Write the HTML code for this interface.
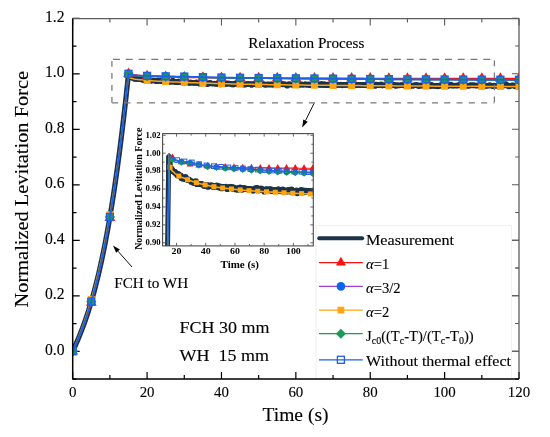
<!DOCTYPE html>
<html><head><meta charset="utf-8"><style>
html,body{margin:0;padding:0;background:#fff;}
svg{display:block;}
</style></head><body>
<svg width="550" height="437" viewBox="0 0 550 437">
<rect width="550" height="437" fill="#fff"/>
<path d="M72.70,18.60v7.0M109.89,18.60v3.8M147.08,18.60v7.0M184.28,18.60v3.8M221.47,18.60v7.0M258.66,18.60v3.8M295.85,18.60v7.0M333.04,18.60v3.8M370.23,18.60v7.0M407.43,18.60v3.8M444.62,18.60v7.0M481.81,18.60v3.8M519.00,18.60v7.0M519.00,379.05h-3.8M519.00,351.30h-7.0M519.00,323.55h-3.8M519.00,295.80h-7.0M519.00,268.05h-3.8M519.00,240.30h-7.0M519.00,212.55h-3.8M519.00,184.80h-7.0M519.00,157.05h-3.8M519.00,129.30h-7.0M519.00,101.55h-3.8M519.00,73.80h-7.0M519.00,46.05h-3.8M519.00,18.30h-7.0" stroke="#5a5a5a" stroke-width="1.1" fill="none"/><path d="M72.70,378.90v-7.0M109.89,378.90v-3.8M147.08,378.90v-7.0M184.28,378.90v-3.8M221.47,378.90v-7.0M258.66,378.90v-3.8M295.85,378.90v-7.0M333.04,378.90v-3.8M370.23,378.90v-7.0M407.43,378.90v-3.8M444.62,378.90v-7.0M481.81,378.90v-3.8M519.00,378.90v-7.0M72.70,379.05h3.8M72.70,351.30h7.0M72.70,323.55h3.8M72.70,295.80h7.0M72.70,268.05h3.8M72.70,240.30h7.0M72.70,212.55h3.8M72.70,184.80h7.0M72.70,157.05h3.8M72.70,129.30h7.0M72.70,101.55h3.8M72.70,73.80h7.0M72.70,46.05h3.8M72.70,18.30h7.0" stroke="#000" stroke-width="1.2" fill="none"/>
<defs><clipPath id="pc"><rect x="72.7" y="18.6" width="446.30" height="360.30"/></clipPath></defs><g clip-path="url(#pc)">
<polyline points="72.70,351.30 73.63,349.28 74.56,347.23 75.49,345.15 76.42,343.03 77.35,340.87 78.28,338.67 79.21,336.42 80.14,334.12 81.07,331.77 82.00,329.36 82.93,326.90 83.86,324.37 84.79,321.78 85.72,319.13 86.65,316.40 87.58,313.60 88.51,310.73 89.44,307.78 90.37,304.75 91.30,301.63 92.23,298.42 93.16,295.13 94.09,291.74 95.02,288.25 95.94,284.67 96.87,280.98 97.80,277.19 98.73,273.29 99.66,269.28 100.59,265.15 101.52,260.91 102.45,256.55 103.38,252.07 104.31,247.46 105.24,242.72 106.17,237.85 107.10,232.84 108.03,227.70 108.96,222.42 109.89,216.99 110.82,211.42 111.75,205.70 112.68,199.82 113.61,193.79 114.54,187.60 115.47,181.25 116.40,174.74 117.33,168.06 118.26,161.21 119.19,154.19 120.12,146.99 121.05,139.61 121.98,132.05 122.91,124.31 123.84,116.38 124.77,108.25 125.70,99.94 126.63,91.43 127.56,82.71 128.49,73.80 128.86,74.87 129.23,75.50 129.60,75.95 130.35,76.57 131.28,77.53 132.21,78.24 134.07,78.60 135.93,78.87 137.79,79.07 139.65,79.36 143.36,79.83 147.08,80.19 150.80,80.49 154.52,80.74 158.24,81.03 161.96,81.29 165.68,81.52 169.40,81.72 173.12,81.91 176.84,82.09 180.56,82.25 184.28,82.40 187.99,82.57 191.71,82.73 195.43,82.88 199.15,83.02 202.87,83.15 206.59,83.28 210.31,83.40 214.03,83.52 217.75,83.63 221.47,83.73 225.19,83.81 228.91,83.87 232.62,83.94 236.34,84.00 240.06,84.06 243.78,84.12 247.50,84.17 251.22,84.21 254.94,84.25 258.66,84.28 262.38,84.32 266.10,84.36 269.82,84.39 273.54,84.43 277.25,84.46 280.97,84.50 284.69,84.53 288.41,84.56 292.13,84.59 295.85,84.62 299.57,84.65 303.29,84.68 307.01,84.71 310.73,84.73 314.45,84.76 318.17,84.79 321.88,84.82 325.60,84.85 329.32,84.88 333.04,84.90 336.76,84.93 340.48,84.96 344.20,84.98 347.92,85.01 351.64,85.03 355.36,85.06 359.08,85.08 362.80,85.10 366.51,85.13 370.23,85.15 373.95,85.17 377.67,85.20 381.39,85.22 385.11,85.24 388.83,85.26 392.55,85.28 396.27,85.30 399.99,85.32 403.71,85.34 407.43,85.36 411.14,85.38 414.86,85.40 418.58,85.42 422.30,85.43 426.02,85.45 429.74,85.47 433.46,85.49 437.18,85.50 440.90,85.52 444.62,85.54 448.34,85.55 452.05,85.57 455.77,85.58 459.49,85.59 463.21,85.61 466.93,85.62 470.65,85.63 474.37,85.64 478.09,85.66 481.81,85.67 485.53,85.68 489.25,85.69 492.97,85.71 496.69,85.72 500.40,85.73 504.12,85.74 507.84,85.75 511.56,85.77 515.28,85.78 519.00,85.79" fill="none" stroke="#1d3349" stroke-width="5.2" stroke-linejoin="round" stroke-linecap="round"/>
<circle cx="134.07" cy="78.60" r="2.8" fill="#1d3349"/><circle cx="135.55" cy="78.97" r="2.8" fill="#1d3349"/><circle cx="137.04" cy="78.86" r="2.8" fill="#1d3349"/><circle cx="138.53" cy="78.75" r="2.8" fill="#1d3349"/><circle cx="140.02" cy="79.19" r="2.8" fill="#1d3349"/><circle cx="141.50" cy="79.12" r="2.8" fill="#1d3349"/><circle cx="142.99" cy="79.82" r="2.8" fill="#1d3349"/><circle cx="144.48" cy="80.61" r="2.8" fill="#1d3349"/><circle cx="145.97" cy="79.84" r="2.8" fill="#1d3349"/><circle cx="147.46" cy="79.91" r="2.8" fill="#1d3349"/><circle cx="148.94" cy="80.59" r="2.8" fill="#1d3349"/><circle cx="150.43" cy="80.64" r="2.8" fill="#1d3349"/><circle cx="151.92" cy="80.62" r="2.8" fill="#1d3349"/><circle cx="153.41" cy="80.20" r="2.8" fill="#1d3349"/><circle cx="154.89" cy="80.75" r="2.8" fill="#1d3349"/><circle cx="156.38" cy="81.24" r="2.8" fill="#1d3349"/><circle cx="157.87" cy="80.33" r="2.8" fill="#1d3349"/><circle cx="159.36" cy="80.88" r="2.8" fill="#1d3349"/><circle cx="160.84" cy="80.26" r="2.8" fill="#1d3349"/><circle cx="162.33" cy="80.66" r="2.8" fill="#1d3349"/><circle cx="163.82" cy="80.48" r="2.8" fill="#1d3349"/><circle cx="165.31" cy="81.38" r="2.8" fill="#1d3349"/><circle cx="166.79" cy="80.95" r="2.8" fill="#1d3349"/><circle cx="168.28" cy="81.80" r="2.8" fill="#1d3349"/><circle cx="169.77" cy="81.82" r="2.8" fill="#1d3349"/><circle cx="171.26" cy="81.73" r="2.8" fill="#1d3349"/><circle cx="172.75" cy="80.64" r="2.8" fill="#1d3349"/><circle cx="174.23" cy="81.70" r="2.8" fill="#1d3349"/><circle cx="175.72" cy="82.01" r="2.8" fill="#1d3349"/><circle cx="177.21" cy="82.16" r="2.8" fill="#1d3349"/><circle cx="178.70" cy="81.41" r="2.8" fill="#1d3349"/><circle cx="180.18" cy="82.00" r="2.8" fill="#1d3349"/><circle cx="181.67" cy="81.81" r="2.8" fill="#1d3349"/><circle cx="183.16" cy="81.95" r="2.8" fill="#1d3349"/><circle cx="184.65" cy="82.95" r="2.8" fill="#1d3349"/><circle cx="186.13" cy="82.08" r="2.8" fill="#1d3349"/><circle cx="187.62" cy="82.54" r="2.8" fill="#1d3349"/><circle cx="189.11" cy="83.06" r="2.8" fill="#1d3349"/><circle cx="190.60" cy="82.39" r="2.8" fill="#1d3349"/><circle cx="192.09" cy="82.69" r="2.8" fill="#1d3349"/><circle cx="193.57" cy="82.86" r="2.8" fill="#1d3349"/><circle cx="195.06" cy="82.89" r="2.8" fill="#1d3349"/><circle cx="196.55" cy="82.31" r="2.8" fill="#1d3349"/><circle cx="198.04" cy="83.02" r="2.8" fill="#1d3349"/><circle cx="199.52" cy="83.71" r="2.8" fill="#1d3349"/><circle cx="201.01" cy="82.31" r="2.8" fill="#1d3349"/><circle cx="202.50" cy="83.57" r="2.8" fill="#1d3349"/><circle cx="203.99" cy="83.25" r="2.8" fill="#1d3349"/><circle cx="205.47" cy="82.92" r="2.8" fill="#1d3349"/><circle cx="206.96" cy="84.29" r="2.8" fill="#1d3349"/><circle cx="208.45" cy="83.72" r="2.8" fill="#1d3349"/><circle cx="209.94" cy="82.79" r="2.8" fill="#1d3349"/><circle cx="211.42" cy="83.47" r="2.8" fill="#1d3349"/><circle cx="212.91" cy="83.77" r="2.8" fill="#1d3349"/><circle cx="214.40" cy="83.43" r="2.8" fill="#1d3349"/><circle cx="215.89" cy="83.91" r="2.8" fill="#1d3349"/><circle cx="217.38" cy="83.58" r="2.8" fill="#1d3349"/><circle cx="218.86" cy="83.99" r="2.8" fill="#1d3349"/><circle cx="220.35" cy="84.42" r="2.8" fill="#1d3349"/><circle cx="221.84" cy="83.40" r="2.8" fill="#1d3349"/><circle cx="223.33" cy="83.87" r="2.8" fill="#1d3349"/><circle cx="224.81" cy="83.57" r="2.8" fill="#1d3349"/><circle cx="226.30" cy="83.89" r="2.8" fill="#1d3349"/><circle cx="227.79" cy="83.26" r="2.8" fill="#1d3349"/><circle cx="229.28" cy="83.59" r="2.8" fill="#1d3349"/><circle cx="230.76" cy="83.81" r="2.8" fill="#1d3349"/><circle cx="232.25" cy="84.38" r="2.8" fill="#1d3349"/><circle cx="233.74" cy="84.53" r="2.8" fill="#1d3349"/><circle cx="235.23" cy="83.32" r="2.8" fill="#1d3349"/><circle cx="236.72" cy="83.61" r="2.8" fill="#1d3349"/><circle cx="238.20" cy="84.36" r="2.8" fill="#1d3349"/><circle cx="239.69" cy="83.06" r="2.8" fill="#1d3349"/><circle cx="241.18" cy="83.85" r="2.8" fill="#1d3349"/><circle cx="242.67" cy="84.06" r="2.8" fill="#1d3349"/><circle cx="244.15" cy="84.76" r="2.8" fill="#1d3349"/><circle cx="245.64" cy="84.49" r="2.8" fill="#1d3349"/><circle cx="247.13" cy="84.00" r="2.8" fill="#1d3349"/><circle cx="248.62" cy="83.99" r="2.8" fill="#1d3349"/><circle cx="250.10" cy="84.07" r="2.8" fill="#1d3349"/><circle cx="251.59" cy="84.97" r="2.8" fill="#1d3349"/><circle cx="253.08" cy="84.01" r="2.8" fill="#1d3349"/><circle cx="254.57" cy="84.09" r="2.8" fill="#1d3349"/><circle cx="256.05" cy="84.43" r="2.8" fill="#1d3349"/><circle cx="257.54" cy="84.21" r="2.8" fill="#1d3349"/><circle cx="259.03" cy="84.19" r="2.8" fill="#1d3349"/><circle cx="260.52" cy="83.75" r="2.8" fill="#1d3349"/><circle cx="262.01" cy="84.31" r="2.8" fill="#1d3349"/><circle cx="263.49" cy="84.11" r="2.8" fill="#1d3349"/><circle cx="264.98" cy="84.93" r="2.8" fill="#1d3349"/><circle cx="266.47" cy="84.69" r="2.8" fill="#1d3349"/><circle cx="267.96" cy="84.36" r="2.8" fill="#1d3349"/><circle cx="269.44" cy="84.73" r="2.8" fill="#1d3349"/><circle cx="270.93" cy="84.24" r="2.8" fill="#1d3349"/><circle cx="272.42" cy="84.95" r="2.8" fill="#1d3349"/><circle cx="273.91" cy="84.43" r="2.8" fill="#1d3349"/><circle cx="275.39" cy="84.74" r="2.8" fill="#1d3349"/><circle cx="276.88" cy="83.81" r="2.8" fill="#1d3349"/><circle cx="278.37" cy="84.65" r="2.8" fill="#1d3349"/><circle cx="279.86" cy="83.64" r="2.8" fill="#1d3349"/><circle cx="281.35" cy="83.48" r="2.8" fill="#1d3349"/><circle cx="282.83" cy="84.36" r="2.8" fill="#1d3349"/><circle cx="284.32" cy="84.08" r="2.8" fill="#1d3349"/><circle cx="285.81" cy="84.62" r="2.8" fill="#1d3349"/><circle cx="287.30" cy="85.67" r="2.8" fill="#1d3349"/><circle cx="288.78" cy="84.15" r="2.8" fill="#1d3349"/><circle cx="290.27" cy="84.26" r="2.8" fill="#1d3349"/><circle cx="291.76" cy="84.69" r="2.8" fill="#1d3349"/><circle cx="293.25" cy="84.85" r="2.8" fill="#1d3349"/><circle cx="294.73" cy="84.52" r="2.8" fill="#1d3349"/><circle cx="296.22" cy="84.52" r="2.8" fill="#1d3349"/><circle cx="297.71" cy="84.99" r="2.8" fill="#1d3349"/><circle cx="299.20" cy="84.91" r="2.8" fill="#1d3349"/><circle cx="300.68" cy="84.14" r="2.8" fill="#1d3349"/><circle cx="302.17" cy="84.63" r="2.8" fill="#1d3349"/><circle cx="303.66" cy="84.70" r="2.8" fill="#1d3349"/><circle cx="305.15" cy="84.17" r="2.8" fill="#1d3349"/><circle cx="306.64" cy="84.83" r="2.8" fill="#1d3349"/><circle cx="308.12" cy="84.29" r="2.8" fill="#1d3349"/><circle cx="309.61" cy="85.21" r="2.8" fill="#1d3349"/><circle cx="311.10" cy="84.83" r="2.8" fill="#1d3349"/><circle cx="312.59" cy="84.79" r="2.8" fill="#1d3349"/><circle cx="314.07" cy="84.46" r="2.8" fill="#1d3349"/><circle cx="315.56" cy="84.71" r="2.8" fill="#1d3349"/><circle cx="317.05" cy="83.78" r="2.8" fill="#1d3349"/><circle cx="318.54" cy="84.23" r="2.8" fill="#1d3349"/><circle cx="320.02" cy="84.99" r="2.8" fill="#1d3349"/><circle cx="321.51" cy="83.75" r="2.8" fill="#1d3349"/><circle cx="323.00" cy="85.25" r="2.8" fill="#1d3349"/><circle cx="324.49" cy="83.97" r="2.8" fill="#1d3349"/><circle cx="325.98" cy="85.23" r="2.8" fill="#1d3349"/><circle cx="327.46" cy="84.44" r="2.8" fill="#1d3349"/><circle cx="328.95" cy="85.26" r="2.8" fill="#1d3349"/><circle cx="330.44" cy="84.95" r="2.8" fill="#1d3349"/><circle cx="331.93" cy="84.13" r="2.8" fill="#1d3349"/><circle cx="333.41" cy="85.53" r="2.8" fill="#1d3349"/><circle cx="334.90" cy="85.64" r="2.8" fill="#1d3349"/><circle cx="336.39" cy="84.89" r="2.8" fill="#1d3349"/><circle cx="337.88" cy="84.80" r="2.8" fill="#1d3349"/><circle cx="339.36" cy="84.87" r="2.8" fill="#1d3349"/><circle cx="340.85" cy="84.47" r="2.8" fill="#1d3349"/><circle cx="342.34" cy="85.52" r="2.8" fill="#1d3349"/><circle cx="343.83" cy="84.71" r="2.8" fill="#1d3349"/><circle cx="345.31" cy="84.96" r="2.8" fill="#1d3349"/><circle cx="346.80" cy="84.60" r="2.8" fill="#1d3349"/><circle cx="348.29" cy="84.70" r="2.8" fill="#1d3349"/><circle cx="349.78" cy="84.38" r="2.8" fill="#1d3349"/><circle cx="351.27" cy="85.66" r="2.8" fill="#1d3349"/><circle cx="352.75" cy="84.96" r="2.8" fill="#1d3349"/><circle cx="354.24" cy="85.53" r="2.8" fill="#1d3349"/><circle cx="355.73" cy="85.07" r="2.8" fill="#1d3349"/><circle cx="357.22" cy="84.72" r="2.8" fill="#1d3349"/><circle cx="358.70" cy="84.91" r="2.8" fill="#1d3349"/><circle cx="360.19" cy="84.81" r="2.8" fill="#1d3349"/><circle cx="361.68" cy="85.10" r="2.8" fill="#1d3349"/><circle cx="363.17" cy="84.92" r="2.8" fill="#1d3349"/><circle cx="364.65" cy="84.97" r="2.8" fill="#1d3349"/><circle cx="366.14" cy="84.44" r="2.8" fill="#1d3349"/><circle cx="367.63" cy="84.73" r="2.8" fill="#1d3349"/><circle cx="369.12" cy="85.97" r="2.8" fill="#1d3349"/><circle cx="370.61" cy="84.82" r="2.8" fill="#1d3349"/><circle cx="372.09" cy="84.64" r="2.8" fill="#1d3349"/><circle cx="373.58" cy="85.34" r="2.8" fill="#1d3349"/><circle cx="375.07" cy="85.88" r="2.8" fill="#1d3349"/><circle cx="376.56" cy="84.46" r="2.8" fill="#1d3349"/><circle cx="378.04" cy="85.09" r="2.8" fill="#1d3349"/><circle cx="379.53" cy="84.89" r="2.8" fill="#1d3349"/><circle cx="381.02" cy="84.34" r="2.8" fill="#1d3349"/><circle cx="382.51" cy="85.59" r="2.8" fill="#1d3349"/><circle cx="383.99" cy="85.22" r="2.8" fill="#1d3349"/><circle cx="385.48" cy="85.28" r="2.8" fill="#1d3349"/><circle cx="386.97" cy="84.87" r="2.8" fill="#1d3349"/><circle cx="388.46" cy="85.49" r="2.8" fill="#1d3349"/><circle cx="389.94" cy="85.00" r="2.8" fill="#1d3349"/><circle cx="391.43" cy="85.20" r="2.8" fill="#1d3349"/><circle cx="392.92" cy="84.73" r="2.8" fill="#1d3349"/><circle cx="394.41" cy="84.68" r="2.8" fill="#1d3349"/><circle cx="395.90" cy="85.97" r="2.8" fill="#1d3349"/><circle cx="397.38" cy="85.05" r="2.8" fill="#1d3349"/><circle cx="398.87" cy="85.46" r="2.8" fill="#1d3349"/><circle cx="400.36" cy="85.31" r="2.8" fill="#1d3349"/><circle cx="401.85" cy="85.11" r="2.8" fill="#1d3349"/><circle cx="403.33" cy="85.08" r="2.8" fill="#1d3349"/><circle cx="404.82" cy="85.66" r="2.8" fill="#1d3349"/><circle cx="406.31" cy="85.20" r="2.8" fill="#1d3349"/><circle cx="407.80" cy="85.29" r="2.8" fill="#1d3349"/><circle cx="409.28" cy="85.38" r="2.8" fill="#1d3349"/><circle cx="410.77" cy="85.96" r="2.8" fill="#1d3349"/><circle cx="412.26" cy="85.72" r="2.8" fill="#1d3349"/><circle cx="413.75" cy="85.58" r="2.8" fill="#1d3349"/><circle cx="415.24" cy="85.12" r="2.8" fill="#1d3349"/><circle cx="416.72" cy="84.72" r="2.8" fill="#1d3349"/><circle cx="418.21" cy="85.89" r="2.8" fill="#1d3349"/><circle cx="419.70" cy="85.90" r="2.8" fill="#1d3349"/><circle cx="421.19" cy="85.36" r="2.8" fill="#1d3349"/><circle cx="422.67" cy="85.71" r="2.8" fill="#1d3349"/><circle cx="424.16" cy="85.83" r="2.8" fill="#1d3349"/><circle cx="425.65" cy="85.87" r="2.8" fill="#1d3349"/><circle cx="427.14" cy="85.92" r="2.8" fill="#1d3349"/><circle cx="428.62" cy="85.24" r="2.8" fill="#1d3349"/><circle cx="430.11" cy="86.23" r="2.8" fill="#1d3349"/><circle cx="431.60" cy="84.85" r="2.8" fill="#1d3349"/><circle cx="433.09" cy="85.92" r="2.8" fill="#1d3349"/><circle cx="434.57" cy="85.74" r="2.8" fill="#1d3349"/><circle cx="436.06" cy="85.94" r="2.8" fill="#1d3349"/><circle cx="437.55" cy="86.45" r="2.8" fill="#1d3349"/><circle cx="439.04" cy="86.26" r="2.8" fill="#1d3349"/><circle cx="440.53" cy="84.95" r="2.8" fill="#1d3349"/><circle cx="442.01" cy="84.68" r="2.8" fill="#1d3349"/><circle cx="443.50" cy="85.94" r="2.8" fill="#1d3349"/><circle cx="444.99" cy="85.03" r="2.8" fill="#1d3349"/><circle cx="446.48" cy="85.54" r="2.8" fill="#1d3349"/><circle cx="447.96" cy="85.97" r="2.8" fill="#1d3349"/><circle cx="449.45" cy="84.73" r="2.8" fill="#1d3349"/><circle cx="450.94" cy="84.51" r="2.8" fill="#1d3349"/><circle cx="452.43" cy="85.70" r="2.8" fill="#1d3349"/><circle cx="453.91" cy="85.59" r="2.8" fill="#1d3349"/><circle cx="455.40" cy="85.45" r="2.8" fill="#1d3349"/><circle cx="456.89" cy="85.60" r="2.8" fill="#1d3349"/><circle cx="458.38" cy="85.16" r="2.8" fill="#1d3349"/><circle cx="459.87" cy="84.84" r="2.8" fill="#1d3349"/><circle cx="461.35" cy="85.52" r="2.8" fill="#1d3349"/><circle cx="462.84" cy="85.12" r="2.8" fill="#1d3349"/><circle cx="464.33" cy="84.79" r="2.8" fill="#1d3349"/><circle cx="465.82" cy="85.87" r="2.8" fill="#1d3349"/><circle cx="467.30" cy="85.59" r="2.8" fill="#1d3349"/><circle cx="468.79" cy="85.83" r="2.8" fill="#1d3349"/><circle cx="470.28" cy="85.14" r="2.8" fill="#1d3349"/><circle cx="471.77" cy="85.31" r="2.8" fill="#1d3349"/><circle cx="473.25" cy="85.14" r="2.8" fill="#1d3349"/><circle cx="474.74" cy="85.20" r="2.8" fill="#1d3349"/><circle cx="476.23" cy="85.75" r="2.8" fill="#1d3349"/><circle cx="477.72" cy="85.26" r="2.8" fill="#1d3349"/><circle cx="479.20" cy="85.84" r="2.8" fill="#1d3349"/><circle cx="480.69" cy="85.84" r="2.8" fill="#1d3349"/><circle cx="482.18" cy="86.68" r="2.8" fill="#1d3349"/><circle cx="483.67" cy="84.98" r="2.8" fill="#1d3349"/><circle cx="485.16" cy="86.12" r="2.8" fill="#1d3349"/><circle cx="486.64" cy="85.64" r="2.8" fill="#1d3349"/><circle cx="488.13" cy="85.68" r="2.8" fill="#1d3349"/><circle cx="489.62" cy="84.97" r="2.8" fill="#1d3349"/><circle cx="491.11" cy="85.47" r="2.8" fill="#1d3349"/><circle cx="492.59" cy="86.08" r="2.8" fill="#1d3349"/><circle cx="494.08" cy="85.67" r="2.8" fill="#1d3349"/><circle cx="495.57" cy="85.76" r="2.8" fill="#1d3349"/><circle cx="497.06" cy="85.57" r="2.8" fill="#1d3349"/><circle cx="498.54" cy="86.30" r="2.8" fill="#1d3349"/><circle cx="500.03" cy="85.72" r="2.8" fill="#1d3349"/><circle cx="501.52" cy="84.63" r="2.8" fill="#1d3349"/><circle cx="503.01" cy="85.39" r="2.8" fill="#1d3349"/><circle cx="504.50" cy="84.76" r="2.8" fill="#1d3349"/><circle cx="505.98" cy="84.12" r="2.8" fill="#1d3349"/><circle cx="507.47" cy="85.49" r="2.8" fill="#1d3349"/><circle cx="508.96" cy="86.42" r="2.8" fill="#1d3349"/><circle cx="510.45" cy="85.79" r="2.8" fill="#1d3349"/><circle cx="511.93" cy="85.18" r="2.8" fill="#1d3349"/><circle cx="513.42" cy="85.30" r="2.8" fill="#1d3349"/><circle cx="514.91" cy="86.34" r="2.8" fill="#1d3349"/><circle cx="516.40" cy="85.86" r="2.8" fill="#1d3349"/><circle cx="517.88" cy="85.81" r="2.8" fill="#1d3349"/>
<polyline points="72.70,351.30 73.63,349.34 74.56,347.35 75.49,345.32 76.42,343.26 77.35,341.16 78.28,339.01 79.21,336.81 80.14,334.57 81.07,332.27 82.00,329.92 82.93,327.50 83.86,325.02 84.79,322.48 85.72,319.87 86.65,317.19 87.58,314.43 88.51,311.59 89.44,308.68 90.37,305.68 91.30,302.59 92.23,299.41 93.16,296.14 94.09,292.77 95.02,289.31 95.94,285.74 96.87,282.07 97.80,278.29 98.73,274.39 99.66,270.39 100.59,266.26 101.52,262.02 102.45,257.65 103.38,253.16 104.31,248.54 105.24,243.79 106.17,238.90 107.10,233.88 108.03,228.71 108.96,223.41 109.89,217.95 110.82,212.35 111.75,206.59 112.68,200.68 113.61,194.62 114.54,188.39 115.47,182.00 116.40,175.44 117.33,168.71 118.26,161.82 119.19,154.74 120.12,147.49 121.05,140.06 121.98,132.45 122.91,124.65 123.84,116.66 124.77,108.49 125.70,100.11 126.63,91.54 127.56,82.77 128.49,73.80 128.86,74.08 129.23,74.25 129.60,74.37 130.35,74.53 131.28,74.68 132.21,74.78 134.07,74.94 135.93,75.05 137.79,75.27 139.65,75.45 143.36,75.74 147.08,75.96 150.80,76.19 154.52,76.38 158.24,76.54 161.96,76.69 165.68,76.82 169.40,76.94 173.12,77.05 176.84,77.15 180.56,77.24 184.28,77.32 187.99,77.38 191.71,77.43 195.43,77.48 199.15,77.53 202.87,77.57 206.59,77.61 210.31,77.65 214.03,77.69 217.75,77.73 221.47,77.76 225.19,77.80 228.91,77.83 232.62,77.86 236.34,77.89 240.06,77.92 243.78,77.95 247.50,77.97 251.22,78.00 254.94,78.02 258.66,78.04 262.38,78.06 266.10,78.08 269.82,78.10 273.54,78.12 277.25,78.13 280.97,78.15 284.69,78.17 288.41,78.19 292.13,78.20 295.85,78.22 299.57,78.24 303.29,78.25 307.01,78.27 310.73,78.28 314.45,78.30 318.17,78.30 321.88,78.31 325.60,78.31 329.32,78.32 333.04,78.33 336.76,78.33 340.48,78.34 344.20,78.34 347.92,78.35 351.64,78.36 355.36,78.36 359.08,78.37 362.80,78.37 366.51,78.38 370.23,78.38 373.95,78.39 377.67,78.39 381.39,78.40 385.11,78.40 388.83,78.41 392.55,78.41 396.27,78.41 399.99,78.41 403.71,78.41 407.43,78.42 411.14,78.42 414.86,78.42 418.58,78.42 422.30,78.42 426.02,78.42 429.74,78.43 433.46,78.43 437.18,78.43 440.90,78.43 444.62,78.43 448.34,78.43 452.05,78.44 455.77,78.44 459.49,78.44 463.21,78.44 466.93,78.44 470.65,78.44 474.37,78.45 478.09,78.45 481.81,78.45 485.53,78.45 489.25,78.45 492.97,78.45 496.69,78.45 500.40,78.46 504.12,78.46 507.84,78.46 511.56,78.46 515.28,78.46 519.00,78.46" fill="none" stroke="#ff1010" stroke-width="1.5"/>
<polygon points="67.30,354.43 78.10,354.43 72.70,345.04" fill="#ff1010"/>
<polygon points="85.90,305.72 96.70,305.72 91.30,296.32" fill="#ff1010"/>
<polygon points="104.49,221.08 115.29,221.08 109.89,211.69" fill="#ff1010"/>
<polygon points="123.09,76.93 133.89,76.93 128.49,67.54" fill="#ff1010"/>
<polygon points="141.68,79.10 152.48,79.10 147.08,69.70" fill="#ff1010"/>
<polygon points="160.28,79.95 171.08,79.95 165.68,70.56" fill="#ff1010"/>
<polygon points="178.88,80.46 189.68,80.46 184.28,71.06" fill="#ff1010"/>
<polygon points="197.47,80.70 208.27,80.70 202.87,71.31" fill="#ff1010"/>
<polygon points="216.07,80.90 226.87,80.90 221.47,71.50" fill="#ff1010"/>
<polygon points="234.66,81.05 245.46,81.05 240.06,71.66" fill="#ff1010"/>
<polygon points="253.26,81.17 264.06,81.17 258.66,71.77" fill="#ff1010"/>
<polygon points="271.85,81.27 282.65,81.27 277.25,71.87" fill="#ff1010"/>
<polygon points="290.45,81.35 301.25,81.35 295.85,71.96" fill="#ff1010"/>
<polygon points="309.05,81.43 319.85,81.43 314.45,72.03" fill="#ff1010"/>
<polygon points="327.64,81.46 338.44,81.46 333.04,72.06" fill="#ff1010"/>
<polygon points="346.24,81.49 357.04,81.49 351.64,72.09" fill="#ff1010"/>
<polygon points="364.83,81.51 375.63,81.51 370.23,72.12" fill="#ff1010"/>
<polygon points="383.43,81.54 394.23,81.54 388.83,72.14" fill="#ff1010"/>
<polygon points="402.03,81.55 412.82,81.55 407.43,72.15" fill="#ff1010"/>
<polygon points="420.62,81.56 431.42,81.56 426.02,72.16" fill="#ff1010"/>
<polygon points="439.22,81.57 450.02,81.57 444.62,72.17" fill="#ff1010"/>
<polygon points="457.81,81.57 468.61,81.57 463.21,72.18" fill="#ff1010"/>
<polygon points="476.41,81.58 487.21,81.58 481.81,72.18" fill="#ff1010"/>
<polygon points="495.00,81.59 505.80,81.59 500.40,72.19" fill="#ff1010"/>
<polygon points="513.60,81.59 524.40,81.59 519.00,72.20" fill="#ff1010"/>
<polyline points="72.70,351.30 73.63,349.28 74.56,347.23 75.49,345.15 76.42,343.03 77.35,340.87 78.28,338.67 79.21,336.42 80.14,334.12 81.07,331.77 82.00,329.36 82.93,326.90 83.86,324.37 84.79,321.78 85.72,319.13 86.65,316.40 87.58,313.60 88.51,310.73 89.44,307.78 90.37,304.75 91.30,301.63 92.23,298.42 93.16,295.13 94.09,291.74 95.02,288.25 95.94,284.67 96.87,280.98 97.80,277.19 98.73,273.29 99.66,269.28 100.59,265.15 101.52,260.91 102.45,256.55 103.38,252.07 104.31,247.46 105.24,242.72 106.17,237.85 107.10,232.84 108.03,227.70 108.96,222.42 109.89,216.99 110.82,211.42 111.75,205.70 112.68,199.82 113.61,193.79 114.54,187.60 115.47,181.25 116.40,174.74 117.33,168.06 118.26,161.21 119.19,154.19 120.12,146.99 121.05,139.61 121.98,132.05 122.91,124.31 123.84,116.38 124.77,108.25 125.70,99.94 126.63,91.43 127.56,82.71 128.49,73.80 128.86,74.38 129.23,74.59 129.60,74.74 130.35,74.96 131.28,75.14 132.21,75.27 134.07,75.47 135.93,75.62 137.79,75.74 139.65,75.83 143.36,75.98 147.08,76.10 150.80,76.22 154.52,76.31 158.24,76.40 161.96,76.47 165.68,76.54 169.40,76.60 173.12,76.66 176.84,76.71 180.56,76.75 184.28,76.80 187.99,76.92 191.71,77.03 195.43,77.14 199.15,77.25 202.87,77.34 206.59,77.44 210.31,77.52 214.03,77.61 217.75,77.69 221.47,77.77 225.19,77.82 228.91,77.87 232.62,77.92 236.34,77.97 240.06,78.02 243.78,78.06 247.50,78.10 251.22,78.15 254.94,78.19 258.66,78.23 262.38,78.26 266.10,78.30 269.82,78.34 273.54,78.37 277.25,78.41 280.97,78.44 284.69,78.47 288.41,78.51 292.13,78.54 295.85,78.57 299.57,78.60 303.29,78.63 307.01,78.66 310.73,78.68 314.45,78.71 318.17,78.75 321.88,78.79 325.60,78.83 329.32,78.86 333.04,78.90 336.76,78.94 340.48,78.97 344.20,79.01 347.92,79.04 351.64,79.07 355.36,79.11 359.08,79.14 362.80,79.17 366.51,79.20 370.23,79.23 373.95,79.26 377.67,79.29 381.39,79.32 385.11,79.35 388.83,79.38 392.55,79.40 396.27,79.43 399.99,79.45 403.71,79.47 407.43,79.50 411.14,79.52 414.86,79.54 418.58,79.56 422.30,79.59 426.02,79.61 429.74,79.63 433.46,79.65 437.18,79.67 440.90,79.69 444.62,79.71 448.34,79.73 452.05,79.74 455.77,79.76 459.49,79.77 463.21,79.79 466.93,79.80 470.65,79.82 474.37,79.83 478.09,79.85 481.81,79.86 485.53,79.88 489.25,79.89 492.97,79.91 496.69,79.92 500.40,79.94 504.12,79.95 507.84,79.97 511.56,79.99 515.28,80.00 519.00,80.02" fill="none" stroke="#a040c8" stroke-width="1.5"/>
<circle cx="72.70" cy="351.30" r="4.00" fill="#0a64f0"/>
<circle cx="91.30" cy="301.63" r="4.00" fill="#0a64f0"/>
<circle cx="109.89" cy="216.99" r="4.00" fill="#0a64f0"/>
<circle cx="128.49" cy="73.80" r="4.00" fill="#0a64f0"/>
<circle cx="147.08" cy="76.10" r="4.00" fill="#0a64f0"/>
<circle cx="165.68" cy="76.54" r="4.00" fill="#0a64f0"/>
<circle cx="184.28" cy="76.80" r="4.00" fill="#0a64f0"/>
<circle cx="202.87" cy="77.34" r="4.00" fill="#0a64f0"/>
<circle cx="221.47" cy="77.77" r="4.00" fill="#0a64f0"/>
<circle cx="240.06" cy="78.02" r="4.00" fill="#0a64f0"/>
<circle cx="258.66" cy="78.23" r="4.00" fill="#0a64f0"/>
<circle cx="277.25" cy="78.41" r="4.00" fill="#0a64f0"/>
<circle cx="295.85" cy="78.57" r="4.00" fill="#0a64f0"/>
<circle cx="314.45" cy="78.71" r="4.00" fill="#0a64f0"/>
<circle cx="333.04" cy="78.90" r="4.00" fill="#0a64f0"/>
<circle cx="351.64" cy="79.07" r="4.00" fill="#0a64f0"/>
<circle cx="370.23" cy="79.23" r="4.00" fill="#0a64f0"/>
<circle cx="388.83" cy="79.38" r="4.00" fill="#0a64f0"/>
<circle cx="407.43" cy="79.50" r="4.00" fill="#0a64f0"/>
<circle cx="426.02" cy="79.61" r="4.00" fill="#0a64f0"/>
<circle cx="444.62" cy="79.71" r="4.00" fill="#0a64f0"/>
<circle cx="463.21" cy="79.79" r="4.00" fill="#0a64f0"/>
<circle cx="481.81" cy="79.86" r="4.00" fill="#0a64f0"/>
<circle cx="500.40" cy="79.94" r="4.00" fill="#0a64f0"/>
<circle cx="519.00" cy="80.02" r="4.00" fill="#0a64f0"/>
<polyline points="72.70,351.30 73.63,349.15 74.56,346.97 75.49,344.76 76.42,342.51 77.35,340.22 78.28,337.89 79.21,335.52 80.14,333.10 81.07,330.63 82.00,328.11 82.93,325.54 83.86,322.90 84.79,320.21 85.72,317.46 86.65,314.64 87.58,311.75 88.51,308.79 89.44,305.76 90.37,302.65 91.30,299.46 92.23,296.20 93.16,292.84 94.09,289.41 95.02,285.88 95.94,282.26 96.87,278.54 97.80,274.72 98.73,270.81 99.66,266.78 100.59,262.66 101.52,258.42 102.45,254.07 103.38,249.60 104.31,245.01 105.24,240.30 106.17,235.47 107.10,230.51 108.03,225.42 108.96,220.19 109.89,214.83 110.82,209.32 111.75,203.67 112.68,197.88 113.61,191.93 114.54,185.84 115.47,179.58 116.40,173.17 117.33,166.59 118.26,159.85 119.19,152.94 120.12,145.86 121.05,138.60 121.98,131.16 122.91,123.54 123.84,115.73 124.77,107.74 125.70,99.55 126.63,91.17 127.56,82.58 128.49,73.80 128.86,75.74 129.23,76.88 129.60,77.69 130.35,78.02 131.28,78.31 132.21,78.52 134.07,78.92 135.93,79.21 137.79,79.44 139.65,79.63 143.36,80.10 147.08,80.46 150.80,80.74 154.52,80.97 158.24,81.17 161.96,81.35 165.68,81.51 169.40,81.72 173.12,81.91 176.84,82.09 180.56,82.25 184.28,82.40 187.99,82.56 191.71,82.71 195.43,82.85 199.15,82.98 202.87,83.11 206.59,83.22 210.31,83.34 214.03,83.45 217.75,83.55 221.47,83.65 225.19,83.75 228.91,83.85 232.62,83.94 236.34,84.03 240.06,84.12 243.78,84.21 247.50,84.27 251.22,84.34 254.94,84.40 258.66,84.47 262.38,84.53 266.10,84.59 269.82,84.64 273.54,84.70 277.25,84.75 280.97,84.81 284.69,84.86 288.41,84.91 292.13,84.96 295.85,85.01 299.57,85.05 303.29,85.10 307.01,85.15 310.73,85.19 314.45,85.23 318.17,85.27 321.88,85.30 325.60,85.34 329.32,85.37 333.04,85.41 336.76,85.44 340.48,85.47 344.20,85.50 347.92,85.53 351.64,85.56 355.36,85.59 359.08,85.62 362.80,85.65 366.51,85.68 370.23,85.71 373.95,85.74 377.67,85.76 381.39,85.79 385.11,85.82 388.83,85.84 392.55,85.87 396.27,85.90 399.99,85.92 403.71,85.95 407.43,85.97 411.14,86.00 414.86,86.02 418.58,86.04 422.30,86.07 426.02,86.09 429.74,86.11 433.46,86.14 437.18,86.16 440.90,86.18 444.62,86.20 448.34,86.22 452.05,86.24 455.77,86.26 459.49,86.28 463.21,86.29 466.93,86.31 470.65,86.33 474.37,86.34 478.09,86.36 481.81,86.38 485.53,86.39 489.25,86.41 492.97,86.43 496.69,86.45 500.40,86.47 504.12,86.49 507.84,86.51 511.56,86.53 515.28,86.55 519.00,86.56" fill="none" stroke="#ffa510" stroke-width="1.5"/>
<rect x="69.20" y="347.80" width="7.00" height="7.00" fill="#ffa510"/>
<rect x="87.80" y="295.96" width="7.00" height="7.00" fill="#ffa510"/>
<rect x="106.39" y="211.33" width="7.00" height="7.00" fill="#ffa510"/>
<rect x="124.99" y="70.30" width="7.00" height="7.00" fill="#ffa510"/>
<rect x="143.58" y="76.96" width="7.00" height="7.00" fill="#ffa510"/>
<rect x="162.18" y="78.01" width="7.00" height="7.00" fill="#ffa510"/>
<rect x="180.78" y="78.90" width="7.00" height="7.00" fill="#ffa510"/>
<rect x="199.37" y="79.61" width="7.00" height="7.00" fill="#ffa510"/>
<rect x="217.97" y="80.15" width="7.00" height="7.00" fill="#ffa510"/>
<rect x="236.56" y="80.62" width="7.00" height="7.00" fill="#ffa510"/>
<rect x="255.16" y="80.97" width="7.00" height="7.00" fill="#ffa510"/>
<rect x="273.75" y="81.25" width="7.00" height="7.00" fill="#ffa510"/>
<rect x="292.35" y="81.51" width="7.00" height="7.00" fill="#ffa510"/>
<rect x="310.95" y="81.73" width="7.00" height="7.00" fill="#ffa510"/>
<rect x="329.54" y="81.91" width="7.00" height="7.00" fill="#ffa510"/>
<rect x="348.14" y="82.06" width="7.00" height="7.00" fill="#ffa510"/>
<rect x="366.73" y="82.21" width="7.00" height="7.00" fill="#ffa510"/>
<rect x="385.33" y="82.34" width="7.00" height="7.00" fill="#ffa510"/>
<rect x="403.93" y="82.47" width="7.00" height="7.00" fill="#ffa510"/>
<rect x="422.52" y="82.59" width="7.00" height="7.00" fill="#ffa510"/>
<rect x="441.12" y="82.70" width="7.00" height="7.00" fill="#ffa510"/>
<rect x="459.71" y="82.79" width="7.00" height="7.00" fill="#ffa510"/>
<rect x="478.31" y="82.88" width="7.00" height="7.00" fill="#ffa510"/>
<rect x="496.90" y="82.97" width="7.00" height="7.00" fill="#ffa510"/>
<rect x="515.50" y="83.06" width="7.00" height="7.00" fill="#ffa510"/>
<polyline points="72.70,351.30 73.63,349.28 74.56,347.23 75.49,345.15 76.42,343.03 77.35,340.87 78.28,338.67 79.21,336.42 80.14,334.12 81.07,331.77 82.00,329.36 82.93,326.90 83.86,324.37 84.79,321.78 85.72,319.13 86.65,316.40 87.58,313.60 88.51,310.73 89.44,307.78 90.37,304.75 91.30,301.63 92.23,298.42 93.16,295.13 94.09,291.74 95.02,288.25 95.94,284.67 96.87,280.98 97.80,277.19 98.73,273.29 99.66,269.28 100.59,265.15 101.52,260.91 102.45,256.55 103.38,252.07 104.31,247.46 105.24,242.72 106.17,237.85 107.10,232.84 108.03,227.70 108.96,222.42 109.89,216.99 110.82,211.42 111.75,205.70 112.68,199.82 113.61,193.79 114.54,187.60 115.47,181.25 116.40,174.74 117.33,168.06 118.26,161.21 119.19,154.19 120.12,146.99 121.05,139.61 121.98,132.05 122.91,124.31 123.84,116.38 124.77,108.25 125.70,99.94 126.63,91.43 127.56,82.71 128.49,73.80 128.86,74.44 129.23,74.65 129.60,74.80 130.35,75.01 131.28,75.19 132.21,75.33 134.07,75.53 135.93,75.68 137.79,75.79 139.65,75.89 143.36,76.04 147.08,76.16 150.80,76.27 154.52,76.37 158.24,76.45 161.96,76.53 165.68,76.60 169.40,76.66 173.12,76.71 176.84,76.76 180.56,76.81 184.28,76.85 187.99,76.98 191.71,77.09 195.43,77.20 199.15,77.30 202.87,77.40 206.59,77.49 210.31,77.58 214.03,77.67 217.75,77.75 221.47,77.82 225.19,77.88 228.91,77.93 232.62,77.98 236.34,78.03 240.06,78.07 243.78,78.12 247.50,78.16 251.22,78.20 254.94,78.24 258.66,78.28 262.38,78.32 266.10,78.36 269.82,78.39 273.54,78.43 277.25,78.46 280.97,78.50 284.69,78.53 288.41,78.56 292.13,78.59 295.85,78.62 299.57,78.65 303.29,78.68 307.01,78.71 310.73,78.74 314.45,78.77 318.17,78.81 321.88,78.84 325.60,78.88 329.32,78.92 333.04,78.96 336.76,78.99 340.48,79.03 344.20,79.06 347.92,79.09 351.64,79.13 355.36,79.16 359.08,79.19 362.80,79.22 366.51,79.26 370.23,79.29 373.95,79.32 377.67,79.35 381.39,79.38 385.11,79.40 388.83,79.43 392.55,79.46 396.27,79.48 399.99,79.51 403.71,79.53 407.43,79.55 411.14,79.57 414.86,79.60 418.58,79.62 422.30,79.64 426.02,79.66 429.74,79.68 433.46,79.70 437.18,79.73 440.90,79.75 444.62,79.77 448.34,79.78 452.05,79.80 455.77,79.81 459.49,79.83 463.21,79.84 466.93,79.86 470.65,79.87 474.37,79.89 478.09,79.90 481.81,79.92 485.53,79.93 489.25,79.95 492.97,79.96 496.69,79.98 500.40,79.99 504.12,80.01 507.84,80.02 511.56,80.04 515.28,80.06 519.00,80.07" fill="none" stroke="#1a9a55" stroke-width="1.5"/>
<polygon points="67.60,351.30 72.70,346.20 77.80,351.30 72.70,356.40" fill="#1a9a55"/>
<polygon points="86.20,301.63 91.30,296.53 96.40,301.63 91.30,306.73" fill="#1a9a55"/>
<polygon points="104.79,216.99 109.89,211.89 114.99,216.99 109.89,222.09" fill="#1a9a55"/>
<polygon points="123.39,73.80 128.49,68.70 133.59,73.80 128.49,78.90" fill="#1a9a55"/>
<polygon points="141.98,76.16 147.08,71.06 152.18,76.16 147.08,81.26" fill="#1a9a55"/>
<polygon points="160.58,76.60 165.68,71.50 170.78,76.60 165.68,81.70" fill="#1a9a55"/>
<polygon points="179.18,76.85 184.28,71.75 189.38,76.85 184.28,81.95" fill="#1a9a55"/>
<polygon points="197.77,77.40 202.87,72.30 207.97,77.40 202.87,82.50" fill="#1a9a55"/>
<polygon points="216.37,77.82 221.47,72.72 226.57,77.82 221.47,82.92" fill="#1a9a55"/>
<polygon points="234.96,78.07 240.06,72.97 245.16,78.07 240.06,83.17" fill="#1a9a55"/>
<polygon points="253.56,78.28 258.66,73.18 263.76,78.28 258.66,83.38" fill="#1a9a55"/>
<polygon points="272.15,78.46 277.25,73.36 282.35,78.46 277.25,83.56" fill="#1a9a55"/>
<polygon points="290.75,78.62 295.85,73.52 300.95,78.62 295.85,83.72" fill="#1a9a55"/>
<polygon points="309.35,78.77 314.45,73.67 319.55,78.77 314.45,83.87" fill="#1a9a55"/>
<polygon points="327.94,78.96 333.04,73.86 338.14,78.96 333.04,84.06" fill="#1a9a55"/>
<polygon points="346.54,79.13 351.64,74.03 356.74,79.13 351.64,84.23" fill="#1a9a55"/>
<polygon points="365.13,79.29 370.23,74.19 375.33,79.29 370.23,84.39" fill="#1a9a55"/>
<polygon points="383.73,79.43 388.83,74.33 393.93,79.43 388.83,84.53" fill="#1a9a55"/>
<polygon points="402.32,79.55 407.43,74.45 412.53,79.55 407.43,84.65" fill="#1a9a55"/>
<polygon points="420.92,79.66 426.02,74.56 431.12,79.66 426.02,84.76" fill="#1a9a55"/>
<polygon points="439.52,79.77 444.62,74.67 449.72,79.77 444.62,84.87" fill="#1a9a55"/>
<polygon points="458.11,79.84 463.21,74.74 468.31,79.84 463.21,84.94" fill="#1a9a55"/>
<polygon points="476.71,79.92 481.81,74.82 486.91,79.92 481.81,85.02" fill="#1a9a55"/>
<polygon points="495.30,79.99 500.40,74.89 505.50,79.99 500.40,85.09" fill="#1a9a55"/>
<polygon points="513.90,80.07 519.00,74.97 524.10,80.07 519.00,85.17" fill="#1a9a55"/>
<polyline points="72.70,351.30 73.63,349.28 74.56,347.23 75.49,345.15 76.42,343.03 77.35,340.87 78.28,338.67 79.21,336.42 80.14,334.12 81.07,331.77 82.00,329.36 82.93,326.90 83.86,324.37 84.79,321.78 85.72,319.13 86.65,316.40 87.58,313.60 88.51,310.73 89.44,307.78 90.37,304.75 91.30,301.63 92.23,298.42 93.16,295.13 94.09,291.74 95.02,288.25 95.94,284.67 96.87,280.98 97.80,277.19 98.73,273.29 99.66,269.28 100.59,265.15 101.52,260.91 102.45,256.55 103.38,252.07 104.31,247.46 105.24,242.72 106.17,237.85 107.10,232.84 108.03,227.70 108.96,222.42 109.89,216.99 110.82,211.42 111.75,205.70 112.68,199.82 113.61,193.79 114.54,187.60 115.47,181.25 116.40,174.74 117.33,168.06 118.26,161.21 119.19,154.19 120.12,146.99 121.05,139.61 121.98,132.05 122.91,124.31 123.84,116.38 124.77,108.25 125.70,99.94 126.63,91.43 127.56,82.71 128.49,73.80 128.86,74.16 129.23,74.37 129.60,74.52 130.35,74.73 131.28,74.91 132.21,75.05 134.07,75.25 135.93,75.40 137.79,75.52 139.65,75.61 143.36,75.76 147.08,75.88 150.80,76.00 154.52,76.09 158.24,76.18 161.96,76.25 165.68,76.32 169.40,76.38 173.12,76.43 176.84,76.48 180.56,76.53 184.28,76.57 187.99,76.70 191.71,76.81 195.43,76.92 199.15,77.02 202.87,77.12 206.59,77.21 210.31,77.30 214.03,77.39 217.75,77.47 221.47,77.55 225.19,77.60 228.91,77.65 232.62,77.70 236.34,77.75 240.06,77.79 243.78,77.84 247.50,77.88 251.22,77.92 254.94,77.96 258.66,78.00 262.38,78.04 266.10,78.08 269.82,78.11 273.54,78.15 277.25,78.18 280.97,78.22 284.69,78.25 288.41,78.28 292.13,78.31 295.85,78.35 299.57,78.38 303.29,78.41 307.01,78.43 310.73,78.46 314.45,78.49 318.17,78.53 321.88,78.57 325.60,78.61 329.32,78.64 333.04,78.68 336.76,78.71 340.48,78.75 344.20,78.78 347.92,78.82 351.64,78.85 355.36,78.88 359.08,78.92 362.80,78.95 366.51,78.98 370.23,79.01 373.95,79.04 377.67,79.07 381.39,79.10 385.11,79.13 388.83,79.16 392.55,79.18 396.27,79.20 399.99,79.23 403.71,79.25 407.43,79.27 411.14,79.30 414.86,79.32 418.58,79.34 422.30,79.36 426.02,79.38 429.74,79.41 433.46,79.43 437.18,79.45 440.90,79.47 444.62,79.49 448.34,79.50 452.05,79.52 455.77,79.54 459.49,79.55 463.21,79.57 466.93,79.58 470.65,79.60 474.37,79.61 478.09,79.63 481.81,79.64 485.53,79.65 489.25,79.67 492.97,79.68 496.69,79.70 500.40,79.72 504.12,79.73 507.84,79.75 511.56,79.76 515.28,79.78 519.00,79.79" fill="none" stroke="#1f5fe8" stroke-width="1.7"/>
<rect x="69.25" y="347.85" width="6.90" height="6.90" fill="none" stroke="#1f5fe8" stroke-width="1.4"/>
<rect x="87.85" y="298.18" width="6.90" height="6.90" fill="none" stroke="#1f5fe8" stroke-width="1.4"/>
<rect x="106.44" y="213.54" width="6.90" height="6.90" fill="none" stroke="#1f5fe8" stroke-width="1.4"/>
<rect x="125.04" y="70.35" width="6.90" height="6.90" fill="none" stroke="#1f5fe8" stroke-width="1.4"/>
<rect x="143.63" y="72.43" width="6.90" height="6.90" fill="none" stroke="#1f5fe8" stroke-width="1.4"/>
<rect x="162.23" y="72.87" width="6.90" height="6.90" fill="none" stroke="#1f5fe8" stroke-width="1.4"/>
<rect x="180.83" y="73.12" width="6.90" height="6.90" fill="none" stroke="#1f5fe8" stroke-width="1.4"/>
<rect x="199.42" y="73.67" width="6.90" height="6.90" fill="none" stroke="#1f5fe8" stroke-width="1.4"/>
<rect x="218.02" y="74.10" width="6.90" height="6.90" fill="none" stroke="#1f5fe8" stroke-width="1.4"/>
<rect x="236.61" y="74.34" width="6.90" height="6.90" fill="none" stroke="#1f5fe8" stroke-width="1.4"/>
<rect x="255.21" y="74.55" width="6.90" height="6.90" fill="none" stroke="#1f5fe8" stroke-width="1.4"/>
<rect x="273.80" y="74.73" width="6.90" height="6.90" fill="none" stroke="#1f5fe8" stroke-width="1.4"/>
<rect x="292.40" y="74.90" width="6.90" height="6.90" fill="none" stroke="#1f5fe8" stroke-width="1.4"/>
<rect x="311.00" y="75.04" width="6.90" height="6.90" fill="none" stroke="#1f5fe8" stroke-width="1.4"/>
<rect x="329.59" y="75.23" width="6.90" height="6.90" fill="none" stroke="#1f5fe8" stroke-width="1.4"/>
<rect x="348.19" y="75.40" width="6.90" height="6.90" fill="none" stroke="#1f5fe8" stroke-width="1.4"/>
<rect x="366.78" y="75.56" width="6.90" height="6.90" fill="none" stroke="#1f5fe8" stroke-width="1.4"/>
<rect x="385.38" y="75.71" width="6.90" height="6.90" fill="none" stroke="#1f5fe8" stroke-width="1.4"/>
<rect x="403.98" y="75.82" width="6.90" height="6.90" fill="none" stroke="#1f5fe8" stroke-width="1.4"/>
<rect x="422.57" y="75.93" width="6.90" height="6.90" fill="none" stroke="#1f5fe8" stroke-width="1.4"/>
<rect x="441.17" y="76.04" width="6.90" height="6.90" fill="none" stroke="#1f5fe8" stroke-width="1.4"/>
<rect x="459.76" y="76.12" width="6.90" height="6.90" fill="none" stroke="#1f5fe8" stroke-width="1.4"/>
<rect x="478.36" y="76.19" width="6.90" height="6.90" fill="none" stroke="#1f5fe8" stroke-width="1.4"/>
<rect x="496.95" y="76.27" width="6.90" height="6.90" fill="none" stroke="#1f5fe8" stroke-width="1.4"/>
<rect x="515.55" y="76.34" width="6.90" height="6.90" fill="none" stroke="#1f5fe8" stroke-width="1.4"/>
</g>
<text x="72.70" y="396.9" font-family="Liberation Serif, serif" stroke="#000" stroke-width="0.12" font-size="15.3" text-anchor="middle" textLength="7.5" lengthAdjust="spacingAndGlyphs">0</text>
<text x="147.08" y="396.9" font-family="Liberation Serif, serif" stroke="#000" stroke-width="0.12" font-size="15.3" text-anchor="middle" textLength="14.9" lengthAdjust="spacingAndGlyphs">20</text>
<text x="221.47" y="396.9" font-family="Liberation Serif, serif" stroke="#000" stroke-width="0.12" font-size="15.3" text-anchor="middle" textLength="14.9" lengthAdjust="spacingAndGlyphs">40</text>
<text x="295.85" y="396.9" font-family="Liberation Serif, serif" stroke="#000" stroke-width="0.12" font-size="15.3" text-anchor="middle" textLength="14.9" lengthAdjust="spacingAndGlyphs">60</text>
<text x="370.23" y="396.9" font-family="Liberation Serif, serif" stroke="#000" stroke-width="0.12" font-size="15.3" text-anchor="middle" textLength="14.9" lengthAdjust="spacingAndGlyphs">80</text>
<text x="444.62" y="396.9" font-family="Liberation Serif, serif" stroke="#000" stroke-width="0.12" font-size="15.3" text-anchor="middle" textLength="22.4" lengthAdjust="spacingAndGlyphs">100</text>
<text x="519.00" y="396.9" font-family="Liberation Serif, serif" stroke="#000" stroke-width="0.12" font-size="15.3" text-anchor="middle" textLength="22.4" lengthAdjust="spacingAndGlyphs">120</text>
<text x="64.6" y="354.60" font-family="Liberation Serif, serif" stroke="#000" stroke-width="0.12" font-size="15.8" text-anchor="end" textLength="19.6" lengthAdjust="spacingAndGlyphs">0.0</text>
<text x="64.6" y="299.10" font-family="Liberation Serif, serif" stroke="#000" stroke-width="0.12" font-size="15.8" text-anchor="end" textLength="19.6" lengthAdjust="spacingAndGlyphs">0.2</text>
<text x="64.6" y="243.60" font-family="Liberation Serif, serif" stroke="#000" stroke-width="0.12" font-size="15.8" text-anchor="end" textLength="19.6" lengthAdjust="spacingAndGlyphs">0.4</text>
<text x="64.6" y="188.10" font-family="Liberation Serif, serif" stroke="#000" stroke-width="0.12" font-size="15.8" text-anchor="end" textLength="19.6" lengthAdjust="spacingAndGlyphs">0.6</text>
<text x="64.6" y="132.60" font-family="Liberation Serif, serif" stroke="#000" stroke-width="0.12" font-size="15.8" text-anchor="end" textLength="19.6" lengthAdjust="spacingAndGlyphs">0.8</text>
<text x="64.6" y="77.10" font-family="Liberation Serif, serif" stroke="#000" stroke-width="0.12" font-size="15.8" text-anchor="end" textLength="19.6" lengthAdjust="spacingAndGlyphs">1.0</text>
<text x="64.6" y="21.60" font-family="Liberation Serif, serif" stroke="#000" stroke-width="0.12" font-size="15.8" text-anchor="end" textLength="19.6" lengthAdjust="spacingAndGlyphs">1.2</text>
<text x="295.5" y="421.4" font-family="Liberation Serif, serif" stroke="#000" stroke-width="0.12" font-size="19.4" text-anchor="middle" textLength="66" lengthAdjust="spacingAndGlyphs">Time (s)</text>
<text transform="translate(28.4,189.2) rotate(-90)" font-family="Liberation Serif, serif" stroke="#000" stroke-width="0.12" font-size="19.4" text-anchor="middle" textLength="236.5" lengthAdjust="spacingAndGlyphs">Normalized Levitation Force</text>
<text x="248.3" y="47.7" font-family="Liberation Serif, serif" stroke="#000" stroke-width="0.12" font-size="13.8" textLength="116" lengthAdjust="spacingAndGlyphs">Relaxation Process</text>
<text x="114.2" y="288" font-family="Liberation Serif, serif" stroke="#000" stroke-width="0.12" font-size="14.3" textLength="74" lengthAdjust="spacingAndGlyphs">FCH to WH</text>
<text x="179.6" y="332.9" font-family="Liberation Serif, serif" stroke="#000" stroke-width="0.12" font-size="16.4" textLength="90" lengthAdjust="spacingAndGlyphs">FCH 30 mm</text>
<text x="179.6" y="360.6" font-family="Liberation Serif, serif" stroke="#000" stroke-width="0.12" font-size="16.4" textLength="89.3" lengthAdjust="spacingAndGlyphs" xml:space="preserve">WH  15 mm</text>
<path d="M113,59.4H494.4" stroke="#7a7a7a" stroke-width="1.3" fill="none" stroke-dasharray="6.9 5.87"/>
<path d="M111.9,60.9V102.8" stroke="#7a7a7a" stroke-width="1.3" fill="none" stroke-dasharray="5.8 6.2"/>
<path d="M112.1,102.8H494.4" stroke="#7a7a7a" stroke-width="1.3" fill="none" stroke-dasharray="6.1 6.2"/>
<path d="M494.4,60.5V102.8" stroke="#7a7a7a" stroke-width="1.3" fill="none" stroke-dasharray="5.8 6.2"/>
<line x1="314" y1="103.4" x2="305.51" y2="120.67" stroke="#111" stroke-width="1.0"/><polygon points="302.2,127.4 303.27,119.57 307.75,121.77" fill="#000"/>
<line x1="132" y1="267" x2="117.98" y2="251.21" stroke="#111" stroke-width="1.0"/><polygon points="113,245.6 119.85,249.55 116.11,252.87" fill="#000"/>
<rect x="316" y="225.5" width="195.5" height="153" fill="#fff" stroke="#f0f0f0" stroke-width="1"/>
<defs><clipPath id="lc"><rect x="315" y="224.5" width="206" height="157"/></clipPath></defs>
<g clip-path="url(#lc)"><path d="M72.70,18.60v7.0M109.89,18.60v3.8M147.08,18.60v7.0M184.28,18.60v3.8M221.47,18.60v7.0M258.66,18.60v3.8M295.85,18.60v7.0M333.04,18.60v3.8M370.23,18.60v7.0M407.43,18.60v3.8M444.62,18.60v7.0M481.81,18.60v3.8M519.00,18.60v7.0M519.00,379.05h-3.8M519.00,351.30h-7.0M519.00,323.55h-3.8M519.00,295.80h-7.0M519.00,268.05h-3.8M519.00,240.30h-7.0M519.00,212.55h-3.8M519.00,184.80h-7.0M519.00,157.05h-3.8M519.00,129.30h-7.0M519.00,101.55h-3.8M519.00,73.80h-7.0M519.00,46.05h-3.8M519.00,18.30h-7.0" stroke="#5a5a5a" stroke-width="1.1" fill="none"/><path d="M72.70,378.90v-7.0M109.89,378.90v-3.8M147.08,378.90v-7.0M184.28,378.90v-3.8M221.47,378.90v-7.0M258.66,378.90v-3.8M295.85,378.90v-7.0M333.04,378.90v-3.8M370.23,378.90v-7.0M407.43,378.90v-3.8M444.62,378.90v-7.0M481.81,378.90v-3.8M519.00,378.90v-7.0M72.70,379.05h3.8M72.70,351.30h7.0M72.70,323.55h3.8M72.70,295.80h7.0M72.70,268.05h3.8M72.70,240.30h7.0M72.70,212.55h3.8M72.70,184.80h7.0M72.70,157.05h3.8M72.70,129.30h7.0M72.70,101.55h3.8M72.70,73.80h7.0M72.70,46.05h3.8M72.70,18.30h7.0" stroke="#000" stroke-width="1.2" fill="none"/></g>
<path d="M72.70,18.60H519.00V378.90" stroke="#5e5e5e" stroke-width="1.3" fill="none" stroke-linejoin="round"/><path d="M72.70,18.60V378.90H519.00" stroke="#000" stroke-width="1.5" fill="none" stroke-linejoin="round"/>
<line x1="319.2" y1="238.3" x2="362.2" y2="238.3" stroke="#1d3349" stroke-width="4" stroke-linecap="round"/>
<line x1="319" y1="262.6" x2="362.8" y2="262.6" stroke="#ff1010" stroke-width="1.3"/><polygon points="335.90,265.50 345.90,265.50 340.90,256.80" fill="#ff1010"/>
<line x1="319" y1="286.4" x2="362.8" y2="286.4" stroke="#a040c8" stroke-width="1.3"/><circle cx="340.90" cy="286.40" r="4.30" fill="#0a64f0"/>
<line x1="319" y1="310.1" x2="362.8" y2="310.1" stroke="#ffa510" stroke-width="1.3"/><rect x="337.50" y="306.70" width="6.80" height="6.80" fill="#ffa510"/>
<line x1="319" y1="333.7" x2="362.8" y2="333.7" stroke="#1a9a55" stroke-width="1.3"/><polygon points="335.90,333.70 340.90,328.70 345.90,333.70 340.90,338.70" fill="#1a9a55"/>
<line x1="319" y1="359.8" x2="362.8" y2="359.8" stroke="#1f5fe8" stroke-width="1.3"/><rect x="337.40" y="356.30" width="7.00" height="7.00" fill="none" stroke="#1f5fe8" stroke-width="1.3"/>
<text x="366" y="245" font-family="Liberation Serif, serif" font-size="14.6" stroke="#000" stroke-width="0.12" textLength="88" lengthAdjust="spacingAndGlyphs">Measurement</text>
<text x="366" y="268.6" font-family="Liberation Serif, serif" font-size="14.6" stroke="#000" stroke-width="0.12"><tspan font-style="italic">α</tspan>=1</text>
<text x="366" y="292.6" font-family="Liberation Serif, serif" font-size="14.6" stroke="#000" stroke-width="0.12"><tspan font-style="italic">α</tspan>=3/2</text>
<text x="366" y="316.8" font-family="Liberation Serif, serif" font-size="14.6" stroke="#000" stroke-width="0.12"><tspan font-style="italic">α</tspan>=2</text>
<text x="366" y="341" font-family="Liberation Serif, serif" font-size="14.6" stroke="#000" stroke-width="0.12">J<tspan font-size="10" dy="3">c0</tspan><tspan dy="-3">((T</tspan><tspan font-size="10" dy="3">c</tspan><tspan dy="-3">-T)/(T</tspan><tspan font-size="10" dy="3">c</tspan><tspan dy="-3">-T</tspan><tspan font-size="10" dy="3">0</tspan><tspan dy="-3">))</tspan></text>
<text x="366" y="365.7" font-family="Liberation Serif, serif" font-size="14.6" stroke="#000" stroke-width="0.12" textLength="145" lengthAdjust="spacingAndGlyphs">Without thermal effect</text>
<rect x="162.6" y="133.6" width="150.70000000000002" height="112.30" fill="#fff"/>
<svg x="162.6" y="133.6" width="150.70000000000002" height="112.30" viewBox="162.6 133.6 150.70000000000002 112.30" overflow="hidden">
<polyline points="164.81,430.95 165.18,408.16 165.54,384.80 165.91,360.86 166.27,336.33 166.64,311.21 167.00,285.48 167.37,259.13 167.73,232.15 168.10,204.54 168.46,176.28 168.61,155.89 169.63,155.89 169.93,162.16 170.29,165.25 170.66,167.54 171.39,168.71 172.12,169.56 172.85,170.22 173.58,171.17 175.04,172.66 176.50,173.83 177.96,174.79 179.42,175.60 180.88,176.54 182.34,177.37 183.81,178.11 185.27,178.78 186.73,179.40 188.19,179.96 189.65,180.49 191.11,180.98 192.57,181.52 194.03,182.03 195.49,182.51 196.95,182.96 198.41,183.40 199.88,183.81 201.34,184.20 202.80,184.57 204.26,184.93 205.72,185.28 207.18,185.51 208.64,185.73 210.10,185.94 211.56,186.14 213.03,186.34 214.49,186.53 215.95,186.67 217.41,186.80 218.87,186.93 220.33,187.05 221.79,187.18 223.25,187.29 224.71,187.41 226.17,187.52 227.63,187.63 229.10,187.74 230.56,187.84 232.02,187.94 233.48,188.04 234.94,188.14 236.40,188.23 237.86,188.33 239.32,188.42 240.78,188.50 242.25,188.59 243.71,188.69 245.17,188.78 246.63,188.87 248.09,188.96 249.55,189.05 251.01,189.14 252.47,189.22 253.93,189.30 255.39,189.39 256.86,189.47 258.32,189.55 259.78,189.62 261.24,189.70 262.70,189.78 264.16,189.85 265.62,189.92 267.08,189.99 268.54,190.07 270.00,190.14 271.47,190.20 272.93,190.27 274.39,190.33 275.85,190.40 277.31,190.46 278.77,190.52 280.23,190.58 281.69,190.64 283.15,190.70 284.61,190.76 286.07,190.82 287.54,190.88 289.00,190.93 290.46,190.99 291.92,191.05 293.38,191.10 294.84,191.15 296.30,191.19 297.76,191.23 299.22,191.28 300.69,191.32 302.15,191.36 303.61,191.40 305.07,191.44 306.53,191.48 307.99,191.53 309.45,191.57 310.91,191.60 312.37,191.64 313.83,191.68 315.30,191.72" fill="none" stroke="#1d3349" stroke-width="5.0" stroke-linejoin="bevel"/>
<circle cx="171.09" cy="168.25" r="2.9" fill="#1d3349"/><circle cx="171.90" cy="169.36" r="2.9" fill="#1d3349"/><circle cx="172.70" cy="170.75" r="2.9" fill="#1d3349"/><circle cx="173.50" cy="171.52" r="2.9" fill="#1d3349"/><circle cx="174.31" cy="172.14" r="2.9" fill="#1d3349"/><circle cx="175.11" cy="171.89" r="2.9" fill="#1d3349"/><circle cx="175.92" cy="173.80" r="2.9" fill="#1d3349"/><circle cx="176.72" cy="173.44" r="2.9" fill="#1d3349"/><circle cx="177.52" cy="175.39" r="2.9" fill="#1d3349"/><circle cx="178.33" cy="173.99" r="2.9" fill="#1d3349"/><circle cx="179.13" cy="175.34" r="2.9" fill="#1d3349"/><circle cx="179.93" cy="175.94" r="2.9" fill="#1d3349"/><circle cx="180.74" cy="175.39" r="2.9" fill="#1d3349"/><circle cx="181.54" cy="178.30" r="2.9" fill="#1d3349"/><circle cx="182.34" cy="178.54" r="2.9" fill="#1d3349"/><circle cx="183.15" cy="177.42" r="2.9" fill="#1d3349"/><circle cx="183.95" cy="178.80" r="2.9" fill="#1d3349"/><circle cx="184.75" cy="178.86" r="2.9" fill="#1d3349"/><circle cx="185.56" cy="176.82" r="2.9" fill="#1d3349"/><circle cx="186.36" cy="179.45" r="2.9" fill="#1d3349"/><circle cx="187.17" cy="179.52" r="2.9" fill="#1d3349"/><circle cx="187.97" cy="179.95" r="2.9" fill="#1d3349"/><circle cx="188.77" cy="179.32" r="2.9" fill="#1d3349"/><circle cx="189.58" cy="180.25" r="2.9" fill="#1d3349"/><circle cx="190.38" cy="180.59" r="2.9" fill="#1d3349"/><circle cx="191.18" cy="181.95" r="2.9" fill="#1d3349"/><circle cx="191.99" cy="181.57" r="2.9" fill="#1d3349"/><circle cx="192.79" cy="181.59" r="2.9" fill="#1d3349"/><circle cx="193.59" cy="183.10" r="2.9" fill="#1d3349"/><circle cx="194.40" cy="181.71" r="2.9" fill="#1d3349"/><circle cx="195.20" cy="182.10" r="2.9" fill="#1d3349"/><circle cx="196.00" cy="181.22" r="2.9" fill="#1d3349"/><circle cx="196.81" cy="184.18" r="2.9" fill="#1d3349"/><circle cx="197.61" cy="183.93" r="2.9" fill="#1d3349"/><circle cx="198.42" cy="184.13" r="2.9" fill="#1d3349"/><circle cx="199.22" cy="184.16" r="2.9" fill="#1d3349"/><circle cx="200.02" cy="183.94" r="2.9" fill="#1d3349"/><circle cx="200.83" cy="184.24" r="2.9" fill="#1d3349"/><circle cx="201.63" cy="184.07" r="2.9" fill="#1d3349"/><circle cx="202.43" cy="184.32" r="2.9" fill="#1d3349"/><circle cx="203.24" cy="184.73" r="2.9" fill="#1d3349"/><circle cx="204.04" cy="186.09" r="2.9" fill="#1d3349"/><circle cx="204.84" cy="185.52" r="2.9" fill="#1d3349"/><circle cx="205.65" cy="185.21" r="2.9" fill="#1d3349"/><circle cx="206.45" cy="184.93" r="2.9" fill="#1d3349"/><circle cx="207.25" cy="185.01" r="2.9" fill="#1d3349"/><circle cx="208.06" cy="186.92" r="2.9" fill="#1d3349"/><circle cx="208.86" cy="186.16" r="2.9" fill="#1d3349"/><circle cx="209.66" cy="185.93" r="2.9" fill="#1d3349"/><circle cx="210.47" cy="185.71" r="2.9" fill="#1d3349"/><circle cx="211.27" cy="185.21" r="2.9" fill="#1d3349"/><circle cx="212.08" cy="186.16" r="2.9" fill="#1d3349"/><circle cx="212.88" cy="187.02" r="2.9" fill="#1d3349"/><circle cx="213.68" cy="186.11" r="2.9" fill="#1d3349"/><circle cx="214.49" cy="186.35" r="2.9" fill="#1d3349"/><circle cx="215.29" cy="186.43" r="2.9" fill="#1d3349"/><circle cx="216.09" cy="186.77" r="2.9" fill="#1d3349"/><circle cx="216.90" cy="185.48" r="2.9" fill="#1d3349"/><circle cx="217.70" cy="186.64" r="2.9" fill="#1d3349"/><circle cx="218.50" cy="186.21" r="2.9" fill="#1d3349"/><circle cx="219.31" cy="187.67" r="2.9" fill="#1d3349"/><circle cx="220.11" cy="186.42" r="2.9" fill="#1d3349"/><circle cx="220.91" cy="187.56" r="2.9" fill="#1d3349"/><circle cx="221.72" cy="188.39" r="2.9" fill="#1d3349"/><circle cx="222.52" cy="186.98" r="2.9" fill="#1d3349"/><circle cx="223.33" cy="186.82" r="2.9" fill="#1d3349"/><circle cx="224.13" cy="187.52" r="2.9" fill="#1d3349"/><circle cx="224.93" cy="187.42" r="2.9" fill="#1d3349"/><circle cx="225.74" cy="186.69" r="2.9" fill="#1d3349"/><circle cx="226.54" cy="187.92" r="2.9" fill="#1d3349"/><circle cx="227.34" cy="189.22" r="2.9" fill="#1d3349"/><circle cx="228.15" cy="187.46" r="2.9" fill="#1d3349"/><circle cx="228.95" cy="187.56" r="2.9" fill="#1d3349"/><circle cx="229.75" cy="186.95" r="2.9" fill="#1d3349"/><circle cx="230.56" cy="188.10" r="2.9" fill="#1d3349"/><circle cx="231.36" cy="186.90" r="2.9" fill="#1d3349"/><circle cx="232.16" cy="187.07" r="2.9" fill="#1d3349"/><circle cx="232.97" cy="189.03" r="2.9" fill="#1d3349"/><circle cx="233.77" cy="187.34" r="2.9" fill="#1d3349"/><circle cx="234.57" cy="188.98" r="2.9" fill="#1d3349"/><circle cx="235.38" cy="189.39" r="2.9" fill="#1d3349"/><circle cx="236.18" cy="188.43" r="2.9" fill="#1d3349"/><circle cx="236.99" cy="188.71" r="2.9" fill="#1d3349"/><circle cx="237.79" cy="189.88" r="2.9" fill="#1d3349"/><circle cx="238.59" cy="188.21" r="2.9" fill="#1d3349"/><circle cx="239.40" cy="187.95" r="2.9" fill="#1d3349"/><circle cx="240.20" cy="187.39" r="2.9" fill="#1d3349"/><circle cx="241.00" cy="188.55" r="2.9" fill="#1d3349"/><circle cx="241.81" cy="189.75" r="2.9" fill="#1d3349"/><circle cx="242.61" cy="189.38" r="2.9" fill="#1d3349"/><circle cx="243.41" cy="187.91" r="2.9" fill="#1d3349"/><circle cx="244.22" cy="188.04" r="2.9" fill="#1d3349"/><circle cx="245.02" cy="188.37" r="2.9" fill="#1d3349"/><circle cx="245.82" cy="189.06" r="2.9" fill="#1d3349"/><circle cx="246.63" cy="188.71" r="2.9" fill="#1d3349"/><circle cx="247.43" cy="189.09" r="2.9" fill="#1d3349"/><circle cx="248.24" cy="189.21" r="2.9" fill="#1d3349"/><circle cx="249.04" cy="188.78" r="2.9" fill="#1d3349"/><circle cx="249.84" cy="189.03" r="2.9" fill="#1d3349"/><circle cx="250.65" cy="189.28" r="2.9" fill="#1d3349"/><circle cx="251.45" cy="189.09" r="2.9" fill="#1d3349"/><circle cx="252.25" cy="189.61" r="2.9" fill="#1d3349"/><circle cx="253.06" cy="190.75" r="2.9" fill="#1d3349"/><circle cx="253.86" cy="189.77" r="2.9" fill="#1d3349"/><circle cx="254.66" cy="189.39" r="2.9" fill="#1d3349"/><circle cx="255.47" cy="188.04" r="2.9" fill="#1d3349"/><circle cx="256.27" cy="189.74" r="2.9" fill="#1d3349"/><circle cx="257.07" cy="187.92" r="2.9" fill="#1d3349"/><circle cx="257.88" cy="188.39" r="2.9" fill="#1d3349"/><circle cx="258.68" cy="190.25" r="2.9" fill="#1d3349"/><circle cx="259.48" cy="190.17" r="2.9" fill="#1d3349"/><circle cx="260.29" cy="189.53" r="2.9" fill="#1d3349"/><circle cx="261.09" cy="188.32" r="2.9" fill="#1d3349"/><circle cx="261.90" cy="189.44" r="2.9" fill="#1d3349"/><circle cx="262.70" cy="189.23" r="2.9" fill="#1d3349"/><circle cx="263.50" cy="190.33" r="2.9" fill="#1d3349"/><circle cx="264.31" cy="191.66" r="2.9" fill="#1d3349"/><circle cx="265.11" cy="190.07" r="2.9" fill="#1d3349"/><circle cx="265.91" cy="189.31" r="2.9" fill="#1d3349"/><circle cx="266.72" cy="189.04" r="2.9" fill="#1d3349"/><circle cx="267.52" cy="189.97" r="2.9" fill="#1d3349"/><circle cx="268.32" cy="189.91" r="2.9" fill="#1d3349"/><circle cx="269.13" cy="189.17" r="2.9" fill="#1d3349"/><circle cx="269.93" cy="190.23" r="2.9" fill="#1d3349"/><circle cx="270.73" cy="189.25" r="2.9" fill="#1d3349"/><circle cx="271.54" cy="191.10" r="2.9" fill="#1d3349"/><circle cx="272.34" cy="191.09" r="2.9" fill="#1d3349"/><circle cx="273.15" cy="191.15" r="2.9" fill="#1d3349"/><circle cx="273.95" cy="189.94" r="2.9" fill="#1d3349"/><circle cx="274.75" cy="190.76" r="2.9" fill="#1d3349"/><circle cx="275.56" cy="190.28" r="2.9" fill="#1d3349"/><circle cx="276.36" cy="190.11" r="2.9" fill="#1d3349"/><circle cx="277.16" cy="190.18" r="2.9" fill="#1d3349"/><circle cx="277.97" cy="189.45" r="2.9" fill="#1d3349"/><circle cx="278.77" cy="189.37" r="2.9" fill="#1d3349"/><circle cx="279.57" cy="191.19" r="2.9" fill="#1d3349"/><circle cx="280.38" cy="190.44" r="2.9" fill="#1d3349"/><circle cx="281.18" cy="190.80" r="2.9" fill="#1d3349"/><circle cx="281.98" cy="191.46" r="2.9" fill="#1d3349"/><circle cx="282.79" cy="189.30" r="2.9" fill="#1d3349"/><circle cx="283.59" cy="190.09" r="2.9" fill="#1d3349"/><circle cx="284.39" cy="190.89" r="2.9" fill="#1d3349"/><circle cx="285.20" cy="191.10" r="2.9" fill="#1d3349"/><circle cx="286.00" cy="190.52" r="2.9" fill="#1d3349"/><circle cx="286.81" cy="191.67" r="2.9" fill="#1d3349"/><circle cx="287.61" cy="191.05" r="2.9" fill="#1d3349"/><circle cx="288.41" cy="189.94" r="2.9" fill="#1d3349"/><circle cx="289.22" cy="190.20" r="2.9" fill="#1d3349"/><circle cx="290.02" cy="191.62" r="2.9" fill="#1d3349"/><circle cx="290.82" cy="191.38" r="2.9" fill="#1d3349"/><circle cx="291.63" cy="189.52" r="2.9" fill="#1d3349"/><circle cx="292.43" cy="192.14" r="2.9" fill="#1d3349"/><circle cx="293.23" cy="191.57" r="2.9" fill="#1d3349"/><circle cx="294.04" cy="192.20" r="2.9" fill="#1d3349"/><circle cx="294.84" cy="190.84" r="2.9" fill="#1d3349"/><circle cx="295.64" cy="190.93" r="2.9" fill="#1d3349"/><circle cx="296.45" cy="190.29" r="2.9" fill="#1d3349"/><circle cx="297.25" cy="193.25" r="2.9" fill="#1d3349"/><circle cx="298.06" cy="191.10" r="2.9" fill="#1d3349"/><circle cx="298.86" cy="192.54" r="2.9" fill="#1d3349"/><circle cx="299.66" cy="190.77" r="2.9" fill="#1d3349"/><circle cx="300.47" cy="191.44" r="2.9" fill="#1d3349"/><circle cx="301.27" cy="190.00" r="2.9" fill="#1d3349"/><circle cx="302.07" cy="191.05" r="2.9" fill="#1d3349"/><circle cx="302.88" cy="192.17" r="2.9" fill="#1d3349"/><circle cx="303.68" cy="190.40" r="2.9" fill="#1d3349"/><circle cx="304.48" cy="192.29" r="2.9" fill="#1d3349"/><circle cx="305.29" cy="191.72" r="2.9" fill="#1d3349"/><circle cx="306.09" cy="190.64" r="2.9" fill="#1d3349"/><circle cx="306.89" cy="191.09" r="2.9" fill="#1d3349"/><circle cx="307.70" cy="191.15" r="2.9" fill="#1d3349"/><circle cx="308.50" cy="191.50" r="2.9" fill="#1d3349"/><circle cx="309.30" cy="191.13" r="2.9" fill="#1d3349"/><circle cx="310.11" cy="190.92" r="2.9" fill="#1d3349"/><circle cx="310.91" cy="191.36" r="2.9" fill="#1d3349"/><circle cx="311.72" cy="190.80" r="2.9" fill="#1d3349"/><circle cx="312.52" cy="190.62" r="2.9" fill="#1d3349"/><circle cx="313.32" cy="191.63" r="2.9" fill="#1d3349"/><circle cx="314.13" cy="192.40" r="2.9" fill="#1d3349"/><circle cx="314.93" cy="190.49" r="2.9" fill="#1d3349"/>
<polyline points="164.81,459.66 165.18,437.39 165.54,414.55 165.91,391.14 166.27,367.15 166.64,342.57 167.00,317.39 167.37,291.60 167.73,265.19 168.10,238.16 168.46,210.49 168.83,182.17 169.19,153.20 169.34,154.12 169.49,154.65 169.63,155.04 169.93,155.57 170.29,156.03 170.66,156.38 171.39,156.87 172.12,157.23 172.85,157.94 173.58,158.53 175.04,159.46 176.50,160.19 177.96,160.91 179.42,161.53 180.88,162.06 182.34,162.53 183.81,162.95 185.27,163.33 186.73,163.68 188.19,164.00 189.65,164.30 191.11,164.58 192.57,164.76 194.03,164.93 195.49,165.08 196.95,165.23 198.41,165.38 199.88,165.51 201.34,165.64 202.80,165.77 204.26,165.88 205.72,166.00 207.18,166.11 208.64,166.21 210.10,166.31 211.56,166.41 213.03,166.50 214.49,166.60 215.95,166.68 217.41,166.75 218.87,166.82 220.33,166.89 221.79,166.95 223.25,167.01 224.71,167.08 226.17,167.14 227.63,167.20 229.10,167.25 230.56,167.31 232.02,167.36 233.48,167.42 234.94,167.47 236.40,167.52 237.86,167.57 239.32,167.62 240.78,167.67 242.25,167.72 243.71,167.74 245.17,167.76 246.63,167.78 248.09,167.80 249.55,167.82 251.01,167.84 252.47,167.85 253.93,167.87 255.39,167.89 256.86,167.91 258.32,167.93 259.78,167.94 261.24,167.96 262.70,167.98 264.16,167.99 265.62,168.01 267.08,168.03 268.54,168.04 270.00,168.06 271.47,168.07 272.93,168.08 274.39,168.09 275.85,168.09 277.31,168.10 278.77,168.10 280.23,168.11 281.69,168.12 283.15,168.12 284.61,168.13 286.07,168.13 287.54,168.14 289.00,168.14 290.46,168.15 291.92,168.15 293.38,168.16 294.84,168.16 296.30,168.17 297.76,168.17 299.22,168.18 300.69,168.18 302.15,168.19 303.61,168.19 305.07,168.20 306.53,168.20 307.99,168.21 309.45,168.21 310.91,168.22 312.37,168.22 313.83,168.23 315.30,168.23" fill="none" stroke="#ff1010" stroke-width="1.1"/>
<polygon points="169.06,159.71 176.06,159.71 172.56,153.62" fill="#ff1010"/>
<polygon points="177.82,164.24 184.82,164.24 181.32,158.15" fill="#ff1010"/>
<polygon points="186.59,166.42 193.59,166.42 190.09,160.33" fill="#ff1010"/>
<polygon points="195.35,167.45 202.35,167.45 198.85,161.36" fill="#ff1010"/>
<polygon points="204.12,168.17 211.12,168.17 207.62,162.08" fill="#ff1010"/>
<polygon points="212.89,168.73 219.89,168.73 216.39,162.64" fill="#ff1010"/>
<polygon points="221.65,169.12 228.65,169.12 225.15,163.03" fill="#ff1010"/>
<polygon points="230.42,169.46 237.42,169.46 233.92,163.37" fill="#ff1010"/>
<polygon points="239.18,169.75 246.18,169.75 242.68,163.66" fill="#ff1010"/>
<polygon points="247.95,169.87 254.95,169.87 251.45,163.78" fill="#ff1010"/>
<polygon points="256.72,169.98 263.72,169.98 260.22,163.89" fill="#ff1010"/>
<polygon points="265.48,170.08 272.48,170.08 268.98,163.99" fill="#ff1010"/>
<polygon points="274.25,170.13 281.25,170.13 277.75,164.04" fill="#ff1010"/>
<polygon points="283.01,170.16 290.01,170.16 286.51,164.07" fill="#ff1010"/>
<polygon points="291.78,170.20 298.78,170.20 295.28,164.11" fill="#ff1010"/>
<polygon points="300.55,170.23 307.55,170.23 304.05,164.14" fill="#ff1010"/>
<polygon points="309.31,170.25 316.31,170.25 312.81,164.16" fill="#ff1010"/>
<polyline points="164.81,457.55 165.18,435.44 165.54,412.76 165.91,389.52 166.27,365.70 166.64,341.29 167.00,316.28 167.37,290.67 167.73,264.45 168.10,237.60 168.46,210.11 168.83,181.98 169.19,153.20 169.34,155.08 169.49,155.76 169.63,156.25 169.93,156.93 170.29,157.52 170.66,157.95 171.39,158.61 172.12,159.08 172.85,159.46 173.58,159.76 175.04,160.25 176.50,160.64 177.96,161.01 179.42,161.32 180.88,161.59 182.34,161.83 183.81,162.05 185.27,162.24 186.73,162.42 188.19,162.58 189.65,162.74 191.11,162.88 192.57,163.27 194.03,163.64 195.49,164.00 196.95,164.33 198.41,164.64 199.88,164.94 201.34,165.23 202.80,165.50 204.26,165.76 205.72,166.01 207.18,166.18 208.64,166.35 210.10,166.51 211.56,166.66 213.03,166.81 214.49,166.96 215.95,167.09 217.41,167.23 218.87,167.36 220.33,167.49 221.79,167.61 223.25,167.73 224.71,167.85 226.17,167.96 227.63,168.07 229.10,168.18 230.56,168.29 232.02,168.39 233.48,168.49 234.94,168.59 236.40,168.69 237.86,168.79 239.32,168.88 240.78,168.97 242.25,169.06 243.71,169.19 245.17,169.31 246.63,169.43 248.09,169.55 249.55,169.67 251.01,169.78 252.47,169.90 253.93,170.01 255.39,170.12 256.86,170.22 258.32,170.33 259.78,170.43 261.24,170.54 262.70,170.64 264.16,170.74 265.62,170.83 267.08,170.93 268.54,171.02 270.00,171.12 271.47,171.21 272.93,171.29 274.39,171.37 275.85,171.44 277.31,171.52 278.77,171.59 280.23,171.66 281.69,171.74 283.15,171.81 284.61,171.88 286.07,171.95 287.54,172.02 289.00,172.09 290.46,172.15 291.92,172.22 293.38,172.28 294.84,172.34 296.30,172.39 297.76,172.44 299.22,172.49 300.69,172.54 302.15,172.59 303.61,172.63 305.07,172.68 306.53,172.73 307.99,172.77 309.45,172.82 310.91,172.87 312.37,172.91 313.83,172.96 315.30,173.02" fill="none" stroke="#a040c8" stroke-width="1.1"/>
<circle cx="172.56" cy="159.32" r="2.90" fill="#0a64f0"/>
<circle cx="181.32" cy="161.67" r="2.90" fill="#0a64f0"/>
<circle cx="190.09" cy="162.78" r="2.90" fill="#0a64f0"/>
<circle cx="198.85" cy="164.73" r="2.90" fill="#0a64f0"/>
<circle cx="207.62" cy="166.23" r="2.90" fill="#0a64f0"/>
<circle cx="216.39" cy="167.14" r="2.90" fill="#0a64f0"/>
<circle cx="225.15" cy="167.88" r="2.90" fill="#0a64f0"/>
<circle cx="233.92" cy="168.52" r="2.90" fill="#0a64f0"/>
<circle cx="242.68" cy="169.10" r="2.90" fill="#0a64f0"/>
<circle cx="251.45" cy="169.82" r="2.90" fill="#0a64f0"/>
<circle cx="260.22" cy="170.46" r="2.90" fill="#0a64f0"/>
<circle cx="268.98" cy="171.05" r="2.90" fill="#0a64f0"/>
<circle cx="277.75" cy="171.54" r="2.90" fill="#0a64f0"/>
<circle cx="286.51" cy="171.97" r="2.90" fill="#0a64f0"/>
<circle cx="295.28" cy="172.35" r="2.90" fill="#0a64f0"/>
<circle cx="304.05" cy="172.65" r="2.90" fill="#0a64f0"/>
<circle cx="312.81" cy="172.93" r="2.90" fill="#0a64f0"/>
<polyline points="164.81,452.81 165.18,431.04 165.54,408.73 165.91,385.86 166.27,362.42 166.64,338.40 167.00,313.79 167.37,288.59 167.73,262.77 168.10,236.34 168.46,209.27 168.83,181.56 169.19,153.20 169.34,159.47 169.49,163.14 169.63,165.74 169.93,166.82 170.29,167.75 170.66,168.43 171.39,169.73 172.12,170.67 172.85,171.41 173.58,172.02 175.04,173.53 176.50,174.70 177.96,175.60 179.42,176.35 180.88,177.01 182.34,177.59 183.81,178.11 185.27,178.78 186.73,179.40 188.19,179.96 189.65,180.49 191.11,180.98 192.57,181.48 194.03,181.96 195.49,182.41 196.95,182.84 198.41,183.25 199.88,183.63 201.34,184.00 202.80,184.35 204.26,184.69 205.72,185.01 207.18,185.33 208.64,185.65 210.10,185.95 211.56,186.24 213.03,186.53 214.49,186.80 215.95,187.02 217.41,187.23 218.87,187.44 220.33,187.64 221.79,187.84 223.25,188.03 224.71,188.21 226.17,188.39 227.63,188.57 229.10,188.74 230.56,188.91 232.02,189.07 233.48,189.23 234.94,189.38 236.40,189.54 237.86,189.69 239.32,189.83 240.78,189.98 242.25,190.12 243.71,190.23 245.17,190.34 246.63,190.46 248.09,190.57 249.55,190.67 251.01,190.78 252.47,190.88 253.93,190.98 255.39,191.08 256.86,191.18 258.32,191.28 259.78,191.38 261.24,191.47 262.70,191.56 264.16,191.65 265.62,191.74 267.08,191.83 268.54,191.92 270.00,192.00 271.47,192.09 272.93,192.17 274.39,192.26 275.85,192.34 277.31,192.42 278.77,192.50 280.23,192.58 281.69,192.66 283.15,192.74 284.61,192.81 286.07,192.89 287.54,192.96 289.00,193.04 290.46,193.11 291.92,193.18 293.38,193.25 294.84,193.31 296.30,193.37 297.76,193.43 299.22,193.48 300.69,193.54 302.15,193.59 303.61,193.65 305.07,193.70 306.53,193.76 307.99,193.81 309.45,193.86 310.91,193.92 312.37,193.97 313.83,194.03 315.30,194.10" fill="none" stroke="#ffa510" stroke-width="1.6"/>
<rect x="167.57" y="164.73" width="5.00" height="5.00" fill="#ffa510"/>
<rect x="176.34" y="173.56" width="5.00" height="5.00" fill="#ffa510"/>
<rect x="185.10" y="177.24" width="5.00" height="5.00" fill="#ffa510"/>
<rect x="193.87" y="180.17" width="5.00" height="5.00" fill="#ffa510"/>
<rect x="202.64" y="182.38" width="5.00" height="5.00" fill="#ffa510"/>
<rect x="211.40" y="184.19" width="5.00" height="5.00" fill="#ffa510"/>
<rect x="220.17" y="185.45" width="5.00" height="5.00" fill="#ffa510"/>
<rect x="228.93" y="186.50" width="5.00" height="5.00" fill="#ffa510"/>
<rect x="237.70" y="187.42" width="5.00" height="5.00" fill="#ffa510"/>
<rect x="246.47" y="188.13" width="5.00" height="5.00" fill="#ffa510"/>
<rect x="255.23" y="188.74" width="5.00" height="5.00" fill="#ffa510"/>
<rect x="264.00" y="189.29" width="5.00" height="5.00" fill="#ffa510"/>
<rect x="272.76" y="189.81" width="5.00" height="5.00" fill="#ffa510"/>
<rect x="281.53" y="190.28" width="5.00" height="5.00" fill="#ffa510"/>
<rect x="290.30" y="190.72" width="5.00" height="5.00" fill="#ffa510"/>
<rect x="299.06" y="191.07" width="5.00" height="5.00" fill="#ffa510"/>
<rect x="307.83" y="191.40" width="5.00" height="5.00" fill="#ffa510"/>
<polyline points="164.81,457.55 165.18,435.44 165.54,412.76 165.91,389.52 166.27,365.70 166.64,341.29 167.00,316.28 167.37,290.67 167.73,264.45 168.10,237.60 168.46,210.11 168.83,181.98 169.19,153.20 169.34,155.26 169.49,155.94 169.63,156.43 169.93,157.11 170.29,157.69 170.66,158.13 171.39,158.78 172.12,159.26 172.85,159.64 173.58,159.94 175.04,160.43 176.50,160.82 177.96,161.19 179.42,161.50 180.88,161.77 182.34,162.01 183.81,162.23 185.27,162.42 186.73,162.60 188.19,162.76 189.65,162.91 191.11,163.06 192.57,163.45 194.03,163.82 195.49,164.17 196.95,164.51 198.41,164.82 199.88,165.12 201.34,165.41 202.80,165.68 204.26,165.94 205.72,166.19 207.18,166.36 208.64,166.53 210.10,166.69 211.56,166.84 213.03,166.99 214.49,167.13 215.95,167.27 217.41,167.41 218.87,167.54 220.33,167.67 221.79,167.79 223.25,167.91 224.71,168.03 226.17,168.14 227.63,168.25 229.10,168.36 230.56,168.47 232.02,168.57 233.48,168.67 234.94,168.77 236.40,168.87 237.86,168.97 239.32,169.06 240.78,169.15 242.25,169.24 243.71,169.36 245.17,169.49 246.63,169.61 248.09,169.73 249.55,169.85 251.01,169.96 252.47,170.08 253.93,170.19 255.39,170.30 256.86,170.40 258.32,170.51 259.78,170.61 261.24,170.72 262.70,170.82 264.16,170.92 265.62,171.01 267.08,171.11 268.54,171.20 270.00,171.30 271.47,171.39 272.93,171.47 274.39,171.54 275.85,171.62 277.31,171.70 278.77,171.77 280.23,171.84 281.69,171.92 283.15,171.99 284.61,172.06 286.07,172.13 287.54,172.20 289.00,172.26 290.46,172.33 291.92,172.40 293.38,172.46 294.84,172.52 296.30,172.57 297.76,172.62 299.22,172.67 300.69,172.72 302.15,172.76 303.61,172.81 305.07,172.86 306.53,172.91 307.99,172.95 309.45,173.00 310.91,173.05 312.37,173.09 313.83,173.14 315.30,173.20" fill="none" stroke="#1a9a55" stroke-width="1.1"/>
<polygon points="169.36,160.10 172.56,156.90 175.76,160.10 172.56,163.30" fill="#1a9a55"/>
<polygon points="178.12,162.45 181.32,159.25 184.52,162.45 181.32,165.65" fill="#1a9a55"/>
<polygon points="186.89,163.56 190.09,160.36 193.29,163.56 190.09,166.76" fill="#1a9a55"/>
<polygon points="195.65,165.51 198.85,162.31 202.05,165.51 198.85,168.71" fill="#1a9a55"/>
<polygon points="204.42,167.01 207.62,163.81 210.82,167.01 207.62,170.21" fill="#1a9a55"/>
<polygon points="213.19,167.91 216.39,164.71 219.59,167.91 216.39,171.11" fill="#1a9a55"/>
<polygon points="221.95,168.66 225.15,165.46 228.35,168.66 225.15,171.86" fill="#1a9a55"/>
<polygon points="230.72,169.30 233.92,166.10 237.12,169.30 233.92,172.50" fill="#1a9a55"/>
<polygon points="239.48,169.88 242.68,166.68 245.88,169.88 242.68,173.08" fill="#1a9a55"/>
<polygon points="248.25,170.60 251.45,167.40 254.65,170.60 251.45,173.80" fill="#1a9a55"/>
<polygon points="257.02,171.24 260.22,168.04 263.42,171.24 260.22,174.44" fill="#1a9a55"/>
<polygon points="265.78,171.83 268.98,168.63 272.18,171.83 268.98,175.03" fill="#1a9a55"/>
<polygon points="274.55,172.32 277.75,169.12 280.95,172.32 277.75,175.52" fill="#1a9a55"/>
<polygon points="283.31,172.75 286.51,169.55 289.71,172.75 286.51,175.95" fill="#1a9a55"/>
<polygon points="292.08,173.13 295.28,169.93 298.48,173.13 295.28,176.33" fill="#1a9a55"/>
<polygon points="300.85,173.43 304.05,170.23 307.25,173.43 304.05,176.63" fill="#1a9a55"/>
<polygon points="309.61,173.71 312.81,170.51 316.01,173.71 312.81,176.91" fill="#1a9a55"/>
<polyline points="164.81,457.55 165.18,435.44 165.54,412.76 165.91,389.52 166.27,365.70 166.64,341.29 167.00,316.28 167.37,290.67 167.73,264.45 168.10,237.60 168.46,210.11 168.83,181.98 169.19,153.20 169.34,154.37 169.49,155.05 169.63,155.53 169.93,156.21 170.29,156.80 170.66,157.23 171.39,157.89 172.12,158.37 172.85,158.74 173.58,159.05 175.04,159.54 176.50,159.92 177.96,160.29 179.42,160.60 180.88,160.87 182.34,161.11 183.81,161.33 185.27,161.52 186.73,161.70 188.19,161.87 189.65,162.02 191.11,162.16 192.57,162.56 194.03,162.93 195.49,163.28 196.95,163.61 198.41,163.93 199.88,164.22 201.34,164.51 202.80,164.78 204.26,165.05 205.72,165.30 207.18,165.47 208.64,165.63 210.10,165.79 211.56,165.95 213.03,166.10 214.49,166.24 215.95,166.38 217.41,166.51 218.87,166.64 220.33,166.77 221.79,166.89 223.25,167.01 224.71,167.13 226.17,167.25 227.63,167.36 229.10,167.47 230.56,167.57 232.02,167.68 233.48,167.78 234.94,167.88 236.40,167.97 237.86,168.07 239.32,168.16 240.78,168.25 242.25,168.34 243.71,168.47 245.17,168.59 246.63,168.71 248.09,168.83 249.55,168.95 251.01,169.07 252.47,169.18 253.93,169.29 255.39,169.40 256.86,169.51 258.32,169.61 259.78,169.72 261.24,169.82 262.70,169.92 264.16,170.02 265.62,170.12 267.08,170.21 268.54,170.31 270.00,170.40 271.47,170.49 272.93,170.57 274.39,170.65 275.85,170.73 277.31,170.80 278.77,170.87 280.23,170.95 281.69,171.02 283.15,171.09 284.61,171.16 286.07,171.23 287.54,171.30 289.00,171.37 290.46,171.44 291.92,171.50 293.38,171.57 294.84,171.62 296.30,171.67 297.76,171.72 299.22,171.77 300.69,171.82 302.15,171.87 303.61,171.92 305.07,171.96 306.53,172.01 307.99,172.06 309.45,172.10 310.91,172.15 312.37,172.20 313.83,172.25 315.30,172.30" fill="none" stroke="#1f5fe8" stroke-width="1.1"/>
<rect x="174.93" y="157.81" width="4.60" height="4.60" fill="none" stroke="#1f5fe8" stroke-width="1.0"/>
<rect x="182.24" y="159.13" width="4.60" height="4.60" fill="none" stroke="#1f5fe8" stroke-width="1.0"/>
<rect x="189.54" y="160.06" width="4.60" height="4.60" fill="none" stroke="#1f5fe8" stroke-width="1.0"/>
<rect x="196.85" y="161.78" width="4.60" height="4.60" fill="none" stroke="#1f5fe8" stroke-width="1.0"/>
<rect x="204.15" y="163.08" width="4.60" height="4.60" fill="none" stroke="#1f5fe8" stroke-width="1.0"/>
<rect x="211.46" y="163.87" width="4.60" height="4.60" fill="none" stroke="#1f5fe8" stroke-width="1.0"/>
<rect x="218.76" y="164.53" width="4.60" height="4.60" fill="none" stroke="#1f5fe8" stroke-width="1.0"/>
<rect x="226.07" y="165.11" width="4.60" height="4.60" fill="none" stroke="#1f5fe8" stroke-width="1.0"/>
<rect x="233.37" y="165.63" width="4.60" height="4.60" fill="none" stroke="#1f5fe8" stroke-width="1.0"/>
<rect x="240.68" y="166.11" width="4.60" height="4.60" fill="none" stroke="#1f5fe8" stroke-width="1.0"/>
<rect x="247.98" y="166.71" width="4.60" height="4.60" fill="none" stroke="#1f5fe8" stroke-width="1.0"/>
<rect x="255.29" y="167.26" width="4.60" height="4.60" fill="none" stroke="#1f5fe8" stroke-width="1.0"/>
<rect x="262.59" y="167.77" width="4.60" height="4.60" fill="none" stroke="#1f5fe8" stroke-width="1.0"/>
<rect x="269.90" y="168.23" width="4.60" height="4.60" fill="none" stroke="#1f5fe8" stroke-width="1.0"/>
<rect x="277.20" y="168.61" width="4.60" height="4.60" fill="none" stroke="#1f5fe8" stroke-width="1.0"/>
<rect x="284.51" y="168.97" width="4.60" height="4.60" fill="none" stroke="#1f5fe8" stroke-width="1.0"/>
<rect x="291.81" y="169.29" width="4.60" height="4.60" fill="none" stroke="#1f5fe8" stroke-width="1.0"/>
<rect x="299.12" y="169.54" width="4.60" height="4.60" fill="none" stroke="#1f5fe8" stroke-width="1.0"/>
<rect x="306.42" y="169.78" width="4.60" height="4.60" fill="none" stroke="#1f5fe8" stroke-width="1.0"/>
<rect x="313.73" y="170.03" width="4.60" height="4.60" fill="none" stroke="#1f5fe8" stroke-width="1.0"/>
</svg>
<rect x="162.6" y="133.6" width="150.70000000000002" height="112.30" fill="none" stroke="#4a4a4a" stroke-width="1.1"/>
<path d="M176.50,245.90v-3.0M176.50,133.60v3.0M191.11,245.90v-2.0M191.11,133.60v2.0M205.72,245.90v-3.0M205.72,133.60v3.0M220.33,245.90v-2.0M220.33,133.60v2.0M234.94,245.90v-3.0M234.94,133.60v3.0M249.55,245.90v-2.0M249.55,133.60v2.0M264.16,245.90v-3.0M264.16,133.60v3.0M278.77,245.90v-2.0M278.77,133.60v2.0M293.38,245.90v-3.0M293.38,133.60v3.0M307.99,245.90v-2.0M307.99,133.60v2.0M162.60,242.80h3.0M313.30,242.80h-3.0M162.60,233.84h2.0M313.30,233.84h-2.0M162.60,224.88h3.0M313.30,224.88h-3.0M162.60,215.92h2.0M313.30,215.92h-2.0M162.60,206.96h3.0M313.30,206.96h-3.0M162.60,198.00h2.0M313.30,198.00h-2.0M162.60,189.04h3.0M313.30,189.04h-3.0M162.60,180.08h2.0M313.30,180.08h-2.0M162.60,171.12h3.0M313.30,171.12h-3.0M162.60,162.16h2.0M313.30,162.16h-2.0M162.60,153.20h3.0M313.30,153.20h-3.0M162.60,144.24h2.0M313.30,144.24h-2.0M162.60,135.28h3.0M313.30,135.28h-3.0" stroke="#555" stroke-width="0.9" fill="none"/>
<text x="176.50" y="254.2" font-family="Liberation Serif, serif" font-weight="bold" font-size="9" text-anchor="middle" textLength="9.9" lengthAdjust="spacingAndGlyphs">20</text>
<text x="205.72" y="254.2" font-family="Liberation Serif, serif" font-weight="bold" font-size="9" text-anchor="middle" textLength="9.9" lengthAdjust="spacingAndGlyphs">40</text>
<text x="234.94" y="254.2" font-family="Liberation Serif, serif" font-weight="bold" font-size="9" text-anchor="middle" textLength="9.9" lengthAdjust="spacingAndGlyphs">60</text>
<text x="264.16" y="254.2" font-family="Liberation Serif, serif" font-weight="bold" font-size="9" text-anchor="middle" textLength="9.9" lengthAdjust="spacingAndGlyphs">80</text>
<text x="293.38" y="254.2" font-family="Liberation Serif, serif" font-weight="bold" font-size="9" text-anchor="middle" textLength="14.9" lengthAdjust="spacingAndGlyphs">100</text>
<text x="160.6" y="245.10" font-family="Liberation Serif, serif" font-weight="bold" font-size="8.9" text-anchor="end" textLength="15.2" lengthAdjust="spacingAndGlyphs">0.90</text>
<text x="160.6" y="227.18" font-family="Liberation Serif, serif" font-weight="bold" font-size="8.9" text-anchor="end" textLength="15.2" lengthAdjust="spacingAndGlyphs">0.92</text>
<text x="160.6" y="209.26" font-family="Liberation Serif, serif" font-weight="bold" font-size="8.9" text-anchor="end" textLength="15.2" lengthAdjust="spacingAndGlyphs">0.94</text>
<text x="160.6" y="191.34" font-family="Liberation Serif, serif" font-weight="bold" font-size="8.9" text-anchor="end" textLength="15.2" lengthAdjust="spacingAndGlyphs">0.96</text>
<text x="160.6" y="173.42" font-family="Liberation Serif, serif" font-weight="bold" font-size="8.9" text-anchor="end" textLength="15.2" lengthAdjust="spacingAndGlyphs">0.98</text>
<text x="160.6" y="155.50" font-family="Liberation Serif, serif" font-weight="bold" font-size="8.9" text-anchor="end" textLength="15.2" lengthAdjust="spacingAndGlyphs">1.00</text>
<text x="160.6" y="137.58" font-family="Liberation Serif, serif" font-weight="bold" font-size="8.9" text-anchor="end" textLength="15.2" lengthAdjust="spacingAndGlyphs">1.02</text>
<text x="239.8" y="267.7" font-family="Liberation Serif, serif" font-weight="bold" font-size="11.2" text-anchor="middle" textLength="38.4" lengthAdjust="spacingAndGlyphs">Time (s)</text>
<text transform="translate(142.2,188.7) rotate(-90)" font-family="Liberation Serif, serif" font-weight="bold" font-size="9.8" text-anchor="middle" textLength="122.2" lengthAdjust="spacingAndGlyphs">Normalized Levitation Force</text>
</svg>
</body></html>
